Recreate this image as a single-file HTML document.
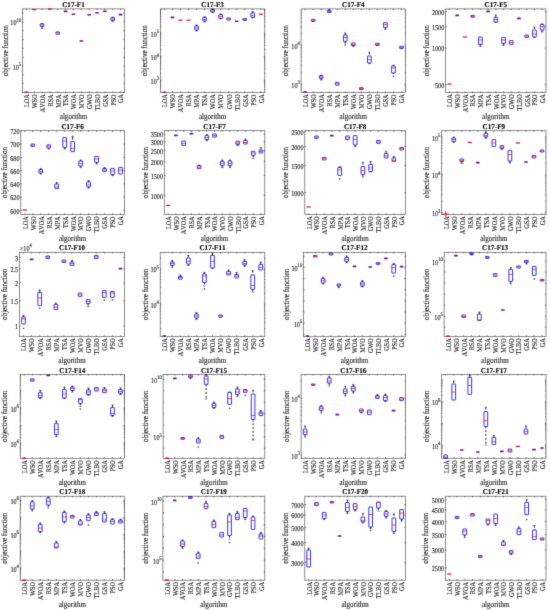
<!DOCTYPE html>
<html><head><meta charset="utf-8"><style>
html,body{margin:0;padding:0;background:#fff;}
svg{display:block;}
svg text{font-family:"Liberation Serif", "Times New Roman", serif;fill:#262626;stroke:#262626;stroke-width:0.12px;font-kerning:none;text-rendering:geometricPrecision;}
</style></head><body>
<svg width="550" height="610" viewBox="0 0 550 610">
<defs><filter id="bl" x="0" y="0" width="100%" height="100%" color-interpolation-filters="sRGB"><feConvolveMatrix order="3" kernelMatrix="0.0113 0.0838 0.0113 0.0838 0.6193 0.0838 0.0113 0.0838 0.0113" edgeMode="duplicate"/></filter></defs>
<g filter="url(#bl)">
<rect width="550" height="610" fill="#fff"/>
<rect x="22.45" y="8.9" width="102.05" height="83.6" fill="#fff" stroke="#5a5a5a" stroke-width="0.7"/>
<path d="M22.45 92.46h1.1M124.5 92.46h-1.1M22.45 83.64h1.1M124.5 83.64h-1.1M22.45 74.82h1.1M124.5 74.82h-1.1M22.45 66h1.1M124.5 66h-1.1M22.45 57.18h1.1M124.5 57.18h-1.1M22.45 48.36h1.1M124.5 48.36h-1.1M22.45 39.54h1.1M124.5 39.54h-1.1M22.45 30.72h1.1M124.5 30.72h-1.1M22.45 21.9h1.1M124.5 21.9h-1.1M22.45 13.08h1.1M124.5 13.08h-1.1M26.38 92.5v-1.1M26.38 8.9v1.1M34.22 92.5v-1.1M34.22 8.9v1.1M42.08 92.5v-1.1M42.08 8.9v1.1M49.92 92.5v-1.1M49.92 8.9v1.1M57.77 92.5v-1.1M57.77 8.9v1.1M65.62 92.5v-1.1M65.62 8.9v1.1M73.47 92.5v-1.1M73.47 8.9v1.1M81.33 92.5v-1.1M81.33 8.9v1.1M89.17 92.5v-1.1M89.17 8.9v1.1M97.03 92.5v-1.1M97.03 8.9v1.1M104.87 92.5v-1.1M104.87 8.9v1.1M112.73 92.5v-1.1M112.73 8.9v1.1M120.58 92.5v-1.1M120.58 8.9v1.1" stroke="#2a2a2a" stroke-width="0.7" fill="none"/>
<path d="M24.32 92.2h4.1" stroke="#d00a40" stroke-width="1.2"/>
<path d="M32.17 9.6h4.1" stroke="#d00a40" stroke-width="1.2"/>
<path d="M42.08 23.5V23.9" stroke="#000" stroke-width="0.85" stroke-dasharray="2 1.8"/><path d="M41.08 23.5h2" stroke="#000" stroke-width="0.6"/><path d="M42.08 26.4V28.4" stroke="#000" stroke-width="0.85" stroke-dasharray="2 1.8"/><path d="M41.08 28.4h2" stroke="#000" stroke-width="0.6"/><rect x="40.23" y="23.9" width="3.7" height="2.5" rx="0.4" fill="none" stroke="#00f" stroke-width="0.8"/><path d="M40.23 25h3.7" stroke="#f00" stroke-width="0.7"/>
<path d="M47.87 9h4.1" stroke="#d00a40" stroke-width="1.2"/>
<rect x="55.92" y="31.9" width="3.7" height="2.3" rx="0.4" fill="none" stroke="#00f" stroke-width="0.8"/><path d="M55.92 33h3.7" stroke="#f00" stroke-width="0.7"/>
<rect x="63.77" y="10.6" width="3.7" height="1.6" rx="0.5" fill="#7a0a90"/>
<rect x="71.62" y="13.4" width="3.7" height="1.6" rx="0.5" fill="#7a0a90"/>
<rect x="79.48" y="40.2" width="3.7" height="1.6" rx="0.5" fill="#7a0a90"/>
<rect x="87.33" y="14" width="3.7" height="1.6" rx="0.5" fill="#7a0a90"/>
<rect x="95.18" y="12" width="3.7" height="1.6" rx="0.5" fill="#7a0a90"/>
<rect x="103.02" y="10.5" width="3.7" height="1.6" rx="0.5" fill="#7a0a90"/>
<path d="M112.73 17.2V17.7" stroke="#000" stroke-width="0.85" stroke-dasharray="2 1.8"/><path d="M111.73 17.2h2" stroke="#000" stroke-width="0.6"/><path d="M112.73 20.6V21.2" stroke="#000" stroke-width="0.85" stroke-dasharray="2 1.8"/><path d="M111.73 21.2h2" stroke="#000" stroke-width="0.6"/><rect x="110.88" y="17.7" width="3.7" height="2.9" rx="0.4" fill="none" stroke="#00f" stroke-width="0.8"/><path d="M110.88 19h3.7" stroke="#f00" stroke-width="0.7"/>
<rect x="118.73" y="13.8" width="3.7" height="1.6" rx="0.5" fill="#7a0a90"/>
<text transform="translate(21.15 25.4) scale(1 1.2)" text-anchor="end" font-size="6.2">10<tspan font-size="4.6" dy="-3.0">10</tspan></text>
<text transform="translate(21.15 69.5) scale(1 1.2)" text-anchor="end" font-size="6.2">10<tspan font-size="4.6" dy="-3.0">5</tspan></text>
<text transform="translate(29.23 94.4) rotate(-90) scale(1 1.2)" text-anchor="end" font-size="6.2">LOA</text>
<text transform="translate(37.07 94.4) rotate(-90) scale(1 1.2)" text-anchor="end" font-size="6.2">WSO</text>
<text transform="translate(44.93 94.4) rotate(-90) scale(1 1.2)" text-anchor="end" font-size="6.2">AVOA</text>
<text transform="translate(52.77 94.4) rotate(-90) scale(1 1.2)" text-anchor="end" font-size="6.2">RSA</text>
<text transform="translate(60.62 94.4) rotate(-90) scale(1 1.2)" text-anchor="end" font-size="6.2">MPA</text>
<text transform="translate(68.47 94.4) rotate(-90) scale(1 1.2)" text-anchor="end" font-size="6.2">TSA</text>
<text transform="translate(76.32 94.4) rotate(-90) scale(1 1.2)" text-anchor="end" font-size="6.2">WOA</text>
<text transform="translate(84.17 94.4) rotate(-90) scale(1 1.2)" text-anchor="end" font-size="6.2">MVO</text>
<text transform="translate(92.02 94.4) rotate(-90) scale(1 1.2)" text-anchor="end" font-size="6.2">GWO</text>
<text transform="translate(99.88 94.4) rotate(-90) scale(1 1.2)" text-anchor="end" font-size="6.2">TLBO</text>
<text transform="translate(107.72 94.4) rotate(-90) scale(1 1.2)" text-anchor="end" font-size="6.2">GSA</text>
<text transform="translate(115.58 94.4) rotate(-90) scale(1 1.2)" text-anchor="end" font-size="6.2">PSO</text>
<text transform="translate(123.42 94.4) rotate(-90) scale(1 1.2)" text-anchor="end" font-size="6.2">GA</text>
<text transform="translate(73.47 118.8) scale(1 1.2)" text-anchor="middle" font-size="7.05">algorithm</text>
<text transform="translate(73.47 7) scale(1 1.04)" text-anchor="middle" font-size="7.1" font-weight="bold" style="fill:#000;stroke:#000">C17-F1</text>
<text transform="translate(7.5 50.7) rotate(-90) scale(1 1.2)" text-anchor="middle" font-size="7.05">objective function</text>
<rect x="160.4" y="8.9" width="104.4" height="83.6" fill="#fff" stroke="#5a5a5a" stroke-width="0.7"/>
<path d="M160.4 80.2h1.1M264.8 80.2h-1.1M160.4 56.65h1.1M264.8 56.65h-1.1M160.4 33.1h1.1M264.8 33.1h-1.1M160.4 9.55h1.1M264.8 9.55h-1.1M160.4 89.57h0.7M264.8 89.57h-0.7M160.4 87.29h0.7M264.8 87.29h-0.7M160.4 85.42h0.7M264.8 85.42h-0.7M160.4 83.85h0.7M264.8 83.85h-0.7M160.4 82.48h0.7M264.8 82.48h-0.7M160.4 81.28h0.7M264.8 81.28h-0.7M160.4 73.11h0.7M264.8 73.11h-0.7M160.4 68.96h0.7M264.8 68.96h-0.7M160.4 66.02h0.7M264.8 66.02h-0.7M160.4 63.74h0.7M264.8 63.74h-0.7M160.4 61.87h0.7M264.8 61.87h-0.7M160.4 60.3h0.7M264.8 60.3h-0.7M160.4 58.93h0.7M264.8 58.93h-0.7M160.4 57.73h0.7M264.8 57.73h-0.7M160.4 49.56h0.7M264.8 49.56h-0.7M160.4 45.41h0.7M264.8 45.41h-0.7M160.4 42.47h0.7M264.8 42.47h-0.7M160.4 40.19h0.7M264.8 40.19h-0.7M160.4 38.32h0.7M264.8 38.32h-0.7M160.4 36.75h0.7M264.8 36.75h-0.7M160.4 35.38h0.7M264.8 35.38h-0.7M160.4 34.18h0.7M264.8 34.18h-0.7M160.4 26.01h0.7M264.8 26.01h-0.7M160.4 21.86h0.7M264.8 21.86h-0.7M160.4 18.92h0.7M264.8 18.92h-0.7M160.4 16.64h0.7M264.8 16.64h-0.7M160.4 14.77h0.7M264.8 14.77h-0.7M160.4 13.2h0.7M264.8 13.2h-0.7M160.4 11.83h0.7M264.8 11.83h-0.7M160.4 10.63h0.7M264.8 10.63h-0.7M164.42 92.5v-1.1M164.42 8.9v1.1M172.45 92.5v-1.1M172.45 8.9v1.1M180.48 92.5v-1.1M180.48 8.9v1.1M188.51 92.5v-1.1M188.51 8.9v1.1M196.54 92.5v-1.1M196.54 8.9v1.1M204.57 92.5v-1.1M204.57 8.9v1.1M212.6 92.5v-1.1M212.6 8.9v1.1M220.63 92.5v-1.1M220.63 8.9v1.1M228.66 92.5v-1.1M228.66 8.9v1.1M236.69 92.5v-1.1M236.69 8.9v1.1M244.72 92.5v-1.1M244.72 8.9v1.1M252.75 92.5v-1.1M252.75 8.9v1.1M260.78 92.5v-1.1M260.78 8.9v1.1" stroke="#2a2a2a" stroke-width="0.7" fill="none"/>
<path d="M162.37 92.2h4.1" stroke="#d00a40" stroke-width="1.2"/>
<rect x="170.6" y="16.6" width="3.7" height="1.6" rx="0.5" fill="#7a0a90"/>
<path d="M178.43 20.2h4.1" stroke="#d00a40" stroke-width="1.2"/>
<path d="M186.46 20.2h4.1" stroke="#d00a40" stroke-width="1.2"/>
<path d="M196.54 25V26" stroke="#000" stroke-width="0.85" stroke-dasharray="2 1.8"/><path d="M195.54 25h2" stroke="#000" stroke-width="0.6"/><path d="M196.54 30V31" stroke="#000" stroke-width="0.85" stroke-dasharray="2 1.8"/><path d="M195.54 31h2" stroke="#000" stroke-width="0.6"/><rect x="194.69" y="26" width="3.7" height="4" rx="0.4" fill="none" stroke="#00f" stroke-width="0.8"/><path d="M194.69 28h3.7" stroke="#f00" stroke-width="0.7"/>
<path d="M204.57 16.6V17.6" stroke="#000" stroke-width="0.85" stroke-dasharray="2 1.8"/><path d="M203.57 16.6h2" stroke="#000" stroke-width="0.6"/><path d="M204.57 21V22" stroke="#000" stroke-width="0.85" stroke-dasharray="2 1.8"/><path d="M203.57 22h2" stroke="#000" stroke-width="0.6"/><rect x="202.72" y="17.6" width="3.7" height="3.4" rx="0.4" fill="none" stroke="#00f" stroke-width="0.8"/><path d="M202.72 19.4h3.7" stroke="#f00" stroke-width="0.7"/>
<path d="M212.6 9V9.4" stroke="#000" stroke-width="0.85" stroke-dasharray="2 1.8"/><path d="M211.6 9h2" stroke="#000" stroke-width="0.6"/><path d="M212.6 12V12.4" stroke="#000" stroke-width="0.85" stroke-dasharray="2 1.8"/><path d="M211.6 12.4h2" stroke="#000" stroke-width="0.6"/><rect x="210.75" y="9.4" width="3.7" height="2.6" rx="0.4" fill="none" stroke="#00f" stroke-width="0.8"/><path d="M210.75 10.8h3.7" stroke="#f00" stroke-width="0.7"/>
<path d="M220.63 14V14.6" stroke="#000" stroke-width="0.85" stroke-dasharray="2 1.8"/><path d="M219.63 14h2" stroke="#000" stroke-width="0.6"/><path d="M220.63 18.4V18.8" stroke="#000" stroke-width="0.85" stroke-dasharray="2 1.8"/><path d="M219.63 18.8h2" stroke="#000" stroke-width="0.6"/><rect x="218.78" y="14.6" width="3.7" height="3.8" rx="0.4" fill="none" stroke="#00f" stroke-width="0.8"/><path d="M218.78 16.4h3.7" stroke="#f00" stroke-width="0.7"/>
<rect x="226.81" y="18" width="3.7" height="2" rx="0.4" fill="none" stroke="#00f" stroke-width="0.8"/><path d="M226.81 19h3.7" stroke="#f00" stroke-width="0.7"/>
<rect x="234.84" y="20.4" width="3.7" height="1.6" rx="0.5" fill="#7a0a90"/>
<rect x="242.87" y="18.6" width="3.7" height="1.8" rx="0.4" fill="none" stroke="#00f" stroke-width="0.8"/><path d="M242.87 19.4h3.7" stroke="#f00" stroke-width="0.7"/>
<path d="M252.75 11.6V13" stroke="#000" stroke-width="0.85" stroke-dasharray="2 1.8"/><path d="M251.75 11.6h2" stroke="#000" stroke-width="0.6"/><path d="M252.75 17.4V17.8" stroke="#000" stroke-width="0.85" stroke-dasharray="2 1.8"/><path d="M251.75 17.8h2" stroke="#000" stroke-width="0.6"/><rect x="250.9" y="13" width="3.7" height="4.4" rx="0.4" fill="none" stroke="#00f" stroke-width="0.8"/><path d="M250.9 15.6h3.7" stroke="#f00" stroke-width="0.7"/>
<path d="M258.73 14.2h4.1" stroke="#d00a40" stroke-width="1.2"/>
<text transform="translate(159.1 36.6) scale(1 1.2)" text-anchor="end" font-size="6.2">10<tspan font-size="4.6" dy="-3.0">5</tspan></text>
<text transform="translate(159.1 60.15) scale(1 1.2)" text-anchor="end" font-size="6.2">10<tspan font-size="4.6" dy="-3.0">4</tspan></text>
<text transform="translate(159.1 83.7) scale(1 1.2)" text-anchor="end" font-size="6.2">10<tspan font-size="4.6" dy="-3.0">3</tspan></text>
<text transform="translate(167.27 94.4) rotate(-90) scale(1 1.2)" text-anchor="end" font-size="6.2">LOA</text>
<text transform="translate(175.3 94.4) rotate(-90) scale(1 1.2)" text-anchor="end" font-size="6.2">WSO</text>
<text transform="translate(183.33 94.4) rotate(-90) scale(1 1.2)" text-anchor="end" font-size="6.2">AVOA</text>
<text transform="translate(191.36 94.4) rotate(-90) scale(1 1.2)" text-anchor="end" font-size="6.2">RSA</text>
<text transform="translate(199.39 94.4) rotate(-90) scale(1 1.2)" text-anchor="end" font-size="6.2">MPA</text>
<text transform="translate(207.42 94.4) rotate(-90) scale(1 1.2)" text-anchor="end" font-size="6.2">TSA</text>
<text transform="translate(215.45 94.4) rotate(-90) scale(1 1.2)" text-anchor="end" font-size="6.2">WOA</text>
<text transform="translate(223.48 94.4) rotate(-90) scale(1 1.2)" text-anchor="end" font-size="6.2">MVO</text>
<text transform="translate(231.51 94.4) rotate(-90) scale(1 1.2)" text-anchor="end" font-size="6.2">GWO</text>
<text transform="translate(239.54 94.4) rotate(-90) scale(1 1.2)" text-anchor="end" font-size="6.2">TLBO</text>
<text transform="translate(247.57 94.4) rotate(-90) scale(1 1.2)" text-anchor="end" font-size="6.2">GSA</text>
<text transform="translate(255.6 94.4) rotate(-90) scale(1 1.2)" text-anchor="end" font-size="6.2">PSO</text>
<text transform="translate(263.63 94.4) rotate(-90) scale(1 1.2)" text-anchor="end" font-size="6.2">GA</text>
<text transform="translate(212.6 118.8) scale(1 1.2)" text-anchor="middle" font-size="7.05">algorithm</text>
<text transform="translate(212.6 7) scale(1 1.04)" text-anchor="middle" font-size="7.1" font-weight="bold" style="fill:#000;stroke:#000">C17-F3</text>
<text transform="translate(147.35 50.7) rotate(-90) scale(1 1.2)" text-anchor="middle" font-size="7.05">objective function</text>
<rect x="301.1" y="8.9" width="104.4" height="83.6" fill="#fff" stroke="#5a5a5a" stroke-width="0.7"/>
<path d="M301.1 84.2h1.1M405.5 84.2h-1.1M301.1 45.3h1.1M405.5 45.3h-1.1M301.1 90.23h0.7M405.5 90.23h-0.7M301.1 87.97h0.7M405.5 87.97h-0.7M301.1 85.98h0.7M405.5 85.98h-0.7M301.1 72.49h0.7M405.5 72.49h-0.7M301.1 65.64h0.7M405.5 65.64h-0.7M301.1 60.78h0.7M405.5 60.78h-0.7M301.1 57.01h0.7M405.5 57.01h-0.7M301.1 53.93h0.7M405.5 53.93h-0.7M301.1 51.33h0.7M405.5 51.33h-0.7M301.1 49.07h0.7M405.5 49.07h-0.7M301.1 47.08h0.7M405.5 47.08h-0.7M301.1 33.59h0.7M405.5 33.59h-0.7M301.1 26.74h0.7M405.5 26.74h-0.7M301.1 21.88h0.7M405.5 21.88h-0.7M301.1 18.11h0.7M405.5 18.11h-0.7M301.1 15.03h0.7M405.5 15.03h-0.7M301.1 12.43h0.7M405.5 12.43h-0.7M301.1 10.17h0.7M405.5 10.17h-0.7M305.12 92.5v-1.1M305.12 8.9v1.1M313.15 92.5v-1.1M313.15 8.9v1.1M321.18 92.5v-1.1M321.18 8.9v1.1M329.21 92.5v-1.1M329.21 8.9v1.1M337.24 92.5v-1.1M337.24 8.9v1.1M345.27 92.5v-1.1M345.27 8.9v1.1M353.3 92.5v-1.1M353.3 8.9v1.1M361.33 92.5v-1.1M361.33 8.9v1.1M369.36 92.5v-1.1M369.36 8.9v1.1M377.39 92.5v-1.1M377.39 8.9v1.1M385.42 92.5v-1.1M385.42 8.9v1.1M393.45 92.5v-1.1M393.45 8.9v1.1M401.48 92.5v-1.1M401.48 8.9v1.1" stroke="#2a2a2a" stroke-width="0.7" fill="none"/>
<rect x="303.27" y="91.2" width="3.7" height="1.6" rx="0.5" fill="#7a0a90"/>
<rect x="311.3" y="19.3" width="3.7" height="2.2" rx="0.4" fill="none" stroke="#00f" stroke-width="0.8"/><path d="M311.3 20.4h3.7" stroke="#f00" stroke-width="0.7"/>
<path d="M321.18 75V75.6" stroke="#000" stroke-width="0.85" stroke-dasharray="2 1.8"/><path d="M320.18 75h2" stroke="#000" stroke-width="0.6"/><path d="M321.18 78.4V80" stroke="#000" stroke-width="0.85" stroke-dasharray="2 1.8"/><path d="M320.18 80h2" stroke="#000" stroke-width="0.6"/><rect x="319.33" y="75.6" width="3.7" height="2.8" rx="0.4" fill="none" stroke="#00f" stroke-width="0.8"/><path d="M319.33 77h3.7" stroke="#f00" stroke-width="0.7"/>
<path d="M329.21 9.6V10.3" stroke="#000" stroke-width="0.85" stroke-dasharray="2 1.8"/><path d="M328.21 9.6h2" stroke="#000" stroke-width="0.6"/><rect x="327.36" y="10.3" width="3.7" height="2.2" rx="0.4" fill="none" stroke="#00f" stroke-width="0.8"/><path d="M327.36 11.4h3.7" stroke="#f00" stroke-width="0.7"/>
<rect x="335.39" y="82.4" width="3.7" height="2.8" rx="0.4" fill="none" stroke="#00f" stroke-width="0.8"/><path d="M335.39 83.8h3.7" stroke="#f00" stroke-width="0.7"/>
<path d="M345.27 33V35" stroke="#000" stroke-width="0.85" stroke-dasharray="2 1.8"/><path d="M344.27 33h2" stroke="#000" stroke-width="0.6"/><path d="M345.27 41.4V43" stroke="#000" stroke-width="0.85" stroke-dasharray="2 1.8"/><path d="M344.27 43h2" stroke="#000" stroke-width="0.6"/><rect x="343.42" y="35" width="3.7" height="6.4" rx="0.4" fill="none" stroke="#00f" stroke-width="0.8"/><path d="M343.42 37.6h3.7" stroke="#f00" stroke-width="0.7"/><path d="M344.47 45h1.6M345.27 44.2v1.6" stroke="#222" stroke-width="0.6"/>
<path d="M353.3 45.6V46.5" stroke="#000" stroke-width="0.85" stroke-dasharray="2 1.8"/><path d="M352.3 46.5h2" stroke="#000" stroke-width="0.6"/><rect x="351.45" y="43" width="3.7" height="2.6" rx="0.4" fill="none" stroke="#00f" stroke-width="0.8"/><path d="M351.45 44.3h3.7" stroke="#f00" stroke-width="0.7"/>
<rect x="359.48" y="87.6" width="3.7" height="2" rx="0.4" fill="none" stroke="#00f" stroke-width="0.8"/><path d="M359.48 88.6h3.7" stroke="#f00" stroke-width="0.7"/>
<path d="M369.36 52.4V56" stroke="#000" stroke-width="0.85" stroke-dasharray="2 1.8"/><path d="M368.36 52.4h2" stroke="#000" stroke-width="0.6"/><path d="M369.36 63V63.6" stroke="#000" stroke-width="0.85" stroke-dasharray="2 1.8"/><path d="M368.36 63.6h2" stroke="#000" stroke-width="0.6"/><rect x="367.51" y="56" width="3.7" height="7" rx="0.4" fill="none" stroke="#00f" stroke-width="0.8"/><path d="M367.51 59.6h3.7" stroke="#f00" stroke-width="0.7"/>
<rect x="375.54" y="43.3" width="3.7" height="2.2" rx="0.4" fill="none" stroke="#00f" stroke-width="0.8"/><path d="M375.54 44.4h3.7" stroke="#f00" stroke-width="0.7"/>
<path d="M385.42 27.6V29.4" stroke="#000" stroke-width="0.85" stroke-dasharray="2 1.8"/><path d="M384.42 29.4h2" stroke="#000" stroke-width="0.6"/><rect x="383.57" y="22.6" width="3.7" height="5" rx="0.4" fill="none" stroke="#00f" stroke-width="0.8"/><path d="M383.57 24.6h3.7" stroke="#f00" stroke-width="0.7"/>
<path d="M393.45 65.2V66" stroke="#000" stroke-width="0.85" stroke-dasharray="2 1.8"/><path d="M392.45 65.2h2" stroke="#000" stroke-width="0.6"/><path d="M393.45 73V73.4" stroke="#000" stroke-width="0.85" stroke-dasharray="2 1.8"/><path d="M392.45 73.4h2" stroke="#000" stroke-width="0.6"/><rect x="391.6" y="66" width="3.7" height="7" rx="0.4" fill="none" stroke="#00f" stroke-width="0.8"/><path d="M391.6 68h3.7" stroke="#f00" stroke-width="0.7"/><path d="M392.65 76.4h1.6M393.45 75.6v1.6" stroke="#222" stroke-width="0.6"/>
<rect x="399.63" y="46.3" width="3.7" height="2.2" rx="0.4" fill="none" stroke="#00f" stroke-width="0.8"/><path d="M399.63 47.4h3.7" stroke="#f00" stroke-width="0.7"/>
<text transform="translate(299.8 48.8) scale(1 1.2)" text-anchor="end" font-size="6.2">10<tspan font-size="4.6" dy="-3.0">4</tspan></text>
<text transform="translate(299.8 87.7) scale(1 1.2)" text-anchor="end" font-size="6.2">10<tspan font-size="4.6" dy="-3.0">3</tspan></text>
<text transform="translate(307.97 94.4) rotate(-90) scale(1 1.2)" text-anchor="end" font-size="6.2">LOA</text>
<text transform="translate(316 94.4) rotate(-90) scale(1 1.2)" text-anchor="end" font-size="6.2">WSO</text>
<text transform="translate(324.03 94.4) rotate(-90) scale(1 1.2)" text-anchor="end" font-size="6.2">AVOA</text>
<text transform="translate(332.06 94.4) rotate(-90) scale(1 1.2)" text-anchor="end" font-size="6.2">RSA</text>
<text transform="translate(340.09 94.4) rotate(-90) scale(1 1.2)" text-anchor="end" font-size="6.2">MPA</text>
<text transform="translate(348.12 94.4) rotate(-90) scale(1 1.2)" text-anchor="end" font-size="6.2">TSA</text>
<text transform="translate(356.15 94.4) rotate(-90) scale(1 1.2)" text-anchor="end" font-size="6.2">WOA</text>
<text transform="translate(364.18 94.4) rotate(-90) scale(1 1.2)" text-anchor="end" font-size="6.2">MVO</text>
<text transform="translate(372.21 94.4) rotate(-90) scale(1 1.2)" text-anchor="end" font-size="6.2">GWO</text>
<text transform="translate(380.24 94.4) rotate(-90) scale(1 1.2)" text-anchor="end" font-size="6.2">TLBO</text>
<text transform="translate(388.27 94.4) rotate(-90) scale(1 1.2)" text-anchor="end" font-size="6.2">GSA</text>
<text transform="translate(396.3 94.4) rotate(-90) scale(1 1.2)" text-anchor="end" font-size="6.2">PSO</text>
<text transform="translate(404.33 94.4) rotate(-90) scale(1 1.2)" text-anchor="end" font-size="6.2">GA</text>
<text transform="translate(353.3 118.8) scale(1 1.2)" text-anchor="middle" font-size="7.05">algorithm</text>
<text transform="translate(353.3 7) scale(1 1.04)" text-anchor="middle" font-size="7.1" font-weight="bold" style="fill:#000;stroke:#000">C17-F4</text>
<text transform="translate(287.95 50.7) rotate(-90) scale(1 1.2)" text-anchor="middle" font-size="7.05">objective function</text>
<rect x="445.6" y="8.9" width="100.4" height="83.6" fill="#fff" stroke="#5a5a5a" stroke-width="0.7"/>
<path d="M445.6 11.6h1.1M546 11.6h-1.1M445.6 26.75h1.1M546 26.75h-1.1M445.6 48.1h1.1M546 48.1h-1.1M445.6 84.6h1.1M546 84.6h-1.1M449.46 92.5v-1.1M449.46 8.9v1.1M457.18 92.5v-1.1M457.18 8.9v1.1M464.91 92.5v-1.1M464.91 8.9v1.1M472.63 92.5v-1.1M472.63 8.9v1.1M480.35 92.5v-1.1M480.35 8.9v1.1M488.08 92.5v-1.1M488.08 8.9v1.1M495.8 92.5v-1.1M495.8 8.9v1.1M503.52 92.5v-1.1M503.52 8.9v1.1M511.25 92.5v-1.1M511.25 8.9v1.1M518.97 92.5v-1.1M518.97 8.9v1.1M526.69 92.5v-1.1M526.69 8.9v1.1M534.42 92.5v-1.1M534.42 8.9v1.1M542.14 92.5v-1.1M542.14 8.9v1.1" stroke="#2a2a2a" stroke-width="0.7" fill="none"/>
<path d="M447.41 84h4.1" stroke="#d00a40" stroke-width="1.2"/>
<rect x="455.33" y="14.6" width="3.7" height="1.6" rx="0.5" fill="#7a0a90"/>
<path d="M462.86 37h4.1" stroke="#d00a40" stroke-width="1.2"/>
<rect x="470.78" y="15.4" width="3.7" height="1.8" rx="0.4" fill="none" stroke="#00f" stroke-width="0.8"/><path d="M470.78 16.3h3.7" stroke="#f00" stroke-width="0.7"/>
<path d="M480.35 44.4V46.4" stroke="#000" stroke-width="0.85" stroke-dasharray="2 1.8"/><path d="M479.35 46.4h2" stroke="#000" stroke-width="0.6"/><rect x="478.5" y="37" width="3.7" height="7.4" rx="0.4" fill="none" stroke="#00f" stroke-width="0.8"/><path d="M478.5 40h3.7" stroke="#f00" stroke-width="0.7"/>
<rect x="486.23" y="10.6" width="3.7" height="1.6" rx="0.5" fill="#7a0a90"/>
<path d="M495.8 15.2V17.6" stroke="#000" stroke-width="0.85" stroke-dasharray="2 1.8"/><path d="M494.8 15.2h2" stroke="#000" stroke-width="0.6"/><path d="M495.8 22V22.4" stroke="#000" stroke-width="0.85" stroke-dasharray="2 1.8"/><path d="M494.8 22.4h2" stroke="#000" stroke-width="0.6"/><rect x="493.95" y="17.6" width="3.7" height="4.4" rx="0.4" fill="none" stroke="#00f" stroke-width="0.8"/><path d="M493.95 19.6h3.7" stroke="#f00" stroke-width="0.7"/>
<path d="M503.52 43.4V45.4" stroke="#000" stroke-width="0.85" stroke-dasharray="2 1.8"/><path d="M502.52 45.4h2" stroke="#000" stroke-width="0.6"/><rect x="501.67" y="37.4" width="3.7" height="6" rx="0.4" fill="none" stroke="#00f" stroke-width="0.8"/><path d="M501.67 40h3.7" stroke="#f00" stroke-width="0.7"/>
<rect x="509.4" y="40.6" width="3.7" height="3.8" rx="0.4" fill="none" stroke="#00f" stroke-width="0.8"/><path d="M509.4 42.6h3.7" stroke="#f00" stroke-width="0.7"/>
<rect x="517.12" y="17.6" width="3.7" height="1.6" rx="0.5" fill="#7a0a90"/>
<rect x="524.84" y="35" width="3.7" height="2.4" rx="0.4" fill="none" stroke="#00f" stroke-width="0.8"/><path d="M524.84 36.2h3.7" stroke="#f00" stroke-width="0.7"/>
<path d="M534.42 27V30" stroke="#000" stroke-width="0.85" stroke-dasharray="2 1.8"/><path d="M533.42 27h2" stroke="#000" stroke-width="0.6"/><path d="M534.42 37V37.4" stroke="#000" stroke-width="0.85" stroke-dasharray="2 1.8"/><path d="M533.42 37.4h2" stroke="#000" stroke-width="0.6"/><rect x="532.57" y="30" width="3.7" height="7" rx="0.4" fill="none" stroke="#00f" stroke-width="0.8"/><path d="M532.57 34h3.7" stroke="#f00" stroke-width="0.7"/>
<path d="M542.14 24V24.4" stroke="#000" stroke-width="0.85" stroke-dasharray="2 1.8"/><path d="M541.14 24h2" stroke="#000" stroke-width="0.6"/><path d="M542.14 30V32" stroke="#000" stroke-width="0.85" stroke-dasharray="2 1.8"/><path d="M541.14 32h2" stroke="#000" stroke-width="0.6"/><rect x="540.29" y="24.4" width="3.7" height="5.6" rx="0.4" fill="none" stroke="#00f" stroke-width="0.8"/><path d="M540.29 26.6h3.7" stroke="#f00" stroke-width="0.7"/>
<text transform="translate(444.3 14.8) scale(1 1.2)" text-anchor="end" font-size="6.2">2000</text>
<text transform="translate(444.3 29.95) scale(1 1.2)" text-anchor="end" font-size="6.2">1500</text>
<text transform="translate(444.3 51.3) scale(1 1.2)" text-anchor="end" font-size="6.2">1000</text>
<text transform="translate(444.3 87.8) scale(1 1.2)" text-anchor="end" font-size="6.2">500</text>
<text transform="translate(452.31 94.4) rotate(-90) scale(1 1.2)" text-anchor="end" font-size="6.2">LOA</text>
<text transform="translate(460.03 94.4) rotate(-90) scale(1 1.2)" text-anchor="end" font-size="6.2">WSO</text>
<text transform="translate(467.76 94.4) rotate(-90) scale(1 1.2)" text-anchor="end" font-size="6.2">AVOA</text>
<text transform="translate(475.48 94.4) rotate(-90) scale(1 1.2)" text-anchor="end" font-size="6.2">RSA</text>
<text transform="translate(483.2 94.4) rotate(-90) scale(1 1.2)" text-anchor="end" font-size="6.2">MPA</text>
<text transform="translate(490.93 94.4) rotate(-90) scale(1 1.2)" text-anchor="end" font-size="6.2">TSA</text>
<text transform="translate(498.65 94.4) rotate(-90) scale(1 1.2)" text-anchor="end" font-size="6.2">WOA</text>
<text transform="translate(506.37 94.4) rotate(-90) scale(1 1.2)" text-anchor="end" font-size="6.2">MVO</text>
<text transform="translate(514.1 94.4) rotate(-90) scale(1 1.2)" text-anchor="end" font-size="6.2">GWO</text>
<text transform="translate(521.82 94.4) rotate(-90) scale(1 1.2)" text-anchor="end" font-size="6.2">TLBO</text>
<text transform="translate(529.54 94.4) rotate(-90) scale(1 1.2)" text-anchor="end" font-size="6.2">GSA</text>
<text transform="translate(537.27 94.4) rotate(-90) scale(1 1.2)" text-anchor="end" font-size="6.2">PSO</text>
<text transform="translate(544.99 94.4) rotate(-90) scale(1 1.2)" text-anchor="end" font-size="6.2">GA</text>
<text transform="translate(495.8 118.8) scale(1 1.2)" text-anchor="middle" font-size="7.05">algorithm</text>
<text transform="translate(495.8 7) scale(1 1.04)" text-anchor="middle" font-size="7.1" font-weight="bold" style="fill:#000;stroke:#000">C17-F5</text>
<text transform="translate(428.55 50.7) rotate(-90) scale(1 1.2)" text-anchor="middle" font-size="7.05">objective function</text>
<rect x="20.8" y="130.7" width="103.7" height="83.8" fill="#fff" stroke="#5a5a5a" stroke-width="0.7"/>
<path d="M20.8 210.4h1.1M124.5 210.4h-1.1M20.8 197.14h1.1M124.5 197.14h-1.1M20.8 183.88h1.1M124.5 183.88h-1.1M20.8 170.62h1.1M124.5 170.62h-1.1M20.8 157.36h1.1M124.5 157.36h-1.1M20.8 144.1h1.1M124.5 144.1h-1.1M20.8 130.84h1.1M124.5 130.84h-1.1M24.79 214.5v-1.1M24.79 130.7v1.1M32.77 214.5v-1.1M32.77 130.7v1.1M40.74 214.5v-1.1M40.74 130.7v1.1M48.72 214.5v-1.1M48.72 130.7v1.1M56.7 214.5v-1.1M56.7 130.7v1.1M64.67 214.5v-1.1M64.67 130.7v1.1M72.65 214.5v-1.1M72.65 130.7v1.1M80.63 214.5v-1.1M80.63 130.7v1.1M88.6 214.5v-1.1M88.6 130.7v1.1M96.58 214.5v-1.1M96.58 130.7v1.1M104.56 214.5v-1.1M104.56 130.7v1.1M112.53 214.5v-1.1M112.53 130.7v1.1M120.51 214.5v-1.1M120.51 130.7v1.1" stroke="#2a2a2a" stroke-width="0.7" fill="none"/>
<path d="M22.74 210h4.1" stroke="#d00a40" stroke-width="1.2"/>
<rect x="30.92" y="144" width="3.7" height="2.4" rx="0.4" fill="none" stroke="#00f" stroke-width="0.8"/><path d="M30.92 145.2h3.7" stroke="#f00" stroke-width="0.7"/>
<path d="M40.74 168.6V169.6" stroke="#000" stroke-width="0.85" stroke-dasharray="2 1.8"/><path d="M39.74 168.6h2" stroke="#000" stroke-width="0.6"/><path d="M40.74 173V174" stroke="#000" stroke-width="0.85" stroke-dasharray="2 1.8"/><path d="M39.74 174h2" stroke="#000" stroke-width="0.6"/><rect x="38.89" y="169.6" width="3.7" height="3.4" rx="0.4" fill="none" stroke="#00f" stroke-width="0.8"/><path d="M38.89 171.2h3.7" stroke="#f00" stroke-width="0.7"/>
<path d="M48.72 148V149" stroke="#000" stroke-width="0.85" stroke-dasharray="2 1.8"/><path d="M47.72 149h2" stroke="#000" stroke-width="0.6"/><rect x="46.87" y="144.8" width="3.7" height="3.2" rx="0.4" fill="none" stroke="#00f" stroke-width="0.8"/><path d="M46.87 146.2h3.7" stroke="#f00" stroke-width="0.7"/>
<path d="M56.7 182.6V184" stroke="#000" stroke-width="0.85" stroke-dasharray="2 1.8"/><path d="M55.7 182.6h2" stroke="#000" stroke-width="0.6"/><rect x="54.85" y="184" width="3.7" height="4.6" rx="0.4" fill="none" stroke="#00f" stroke-width="0.8"/><path d="M54.85 187h3.7" stroke="#f00" stroke-width="0.7"/>
<path d="M64.67 147.4V149" stroke="#000" stroke-width="0.85" stroke-dasharray="2 1.8"/><path d="M63.67 149h2" stroke="#000" stroke-width="0.6"/><rect x="62.82" y="137.6" width="3.7" height="9.8" rx="0.4" fill="none" stroke="#00f" stroke-width="0.8"/><path d="M62.82 141h3.7" stroke="#f00" stroke-width="0.7"/>
<path d="M72.65 137.6V141.6" stroke="#000" stroke-width="0.85" stroke-dasharray="2 1.8"/><path d="M71.65 137.6h2" stroke="#000" stroke-width="0.6"/><rect x="70.8" y="141.6" width="3.7" height="10" rx="0.4" fill="none" stroke="#00f" stroke-width="0.8"/><path d="M70.8 148.4h3.7" stroke="#f00" stroke-width="0.7"/><path d="M71.85 136.4h1.6M72.65 135.6v1.6" stroke="#222" stroke-width="0.6"/>
<path d="M80.63 160V161" stroke="#000" stroke-width="0.85" stroke-dasharray="2 1.8"/><path d="M79.63 160h2" stroke="#000" stroke-width="0.6"/><path d="M80.63 166V167.4" stroke="#000" stroke-width="0.85" stroke-dasharray="2 1.8"/><path d="M79.63 167.4h2" stroke="#000" stroke-width="0.6"/><rect x="78.78" y="161" width="3.7" height="5" rx="0.4" fill="none" stroke="#00f" stroke-width="0.8"/><path d="M78.78 163.6h3.7" stroke="#f00" stroke-width="0.7"/>
<path d="M88.6 180.6V182" stroke="#000" stroke-width="0.85" stroke-dasharray="2 1.8"/><path d="M87.6 180.6h2" stroke="#000" stroke-width="0.6"/><path d="M88.6 187V188" stroke="#000" stroke-width="0.85" stroke-dasharray="2 1.8"/><path d="M87.6 188h2" stroke="#000" stroke-width="0.6"/><rect x="86.75" y="182" width="3.7" height="5" rx="0.4" fill="none" stroke="#00f" stroke-width="0.8"/><path d="M86.75 185h3.7" stroke="#f00" stroke-width="0.7"/>
<path d="M96.58 162.4V164" stroke="#000" stroke-width="0.85" stroke-dasharray="2 1.8"/><path d="M95.58 164h2" stroke="#000" stroke-width="0.6"/><rect x="94.73" y="156.4" width="3.7" height="6" rx="0.4" fill="none" stroke="#00f" stroke-width="0.8"/><path d="M94.73 159h3.7" stroke="#f00" stroke-width="0.7"/>
<path d="M104.56 167.6V168.4" stroke="#000" stroke-width="0.85" stroke-dasharray="2 1.8"/><path d="M103.56 167.6h2" stroke="#000" stroke-width="0.6"/><rect x="102.71" y="168.4" width="3.7" height="3" rx="0.4" fill="none" stroke="#00f" stroke-width="0.8"/><path d="M102.71 170h3.7" stroke="#f00" stroke-width="0.7"/>
<path d="M112.53 174.6V175.6" stroke="#000" stroke-width="0.85" stroke-dasharray="2 1.8"/><path d="M111.53 175.6h2" stroke="#000" stroke-width="0.6"/><rect x="110.68" y="168.4" width="3.7" height="6.2" rx="0.4" fill="none" stroke="#00f" stroke-width="0.8"/><path d="M110.68 171h3.7" stroke="#f00" stroke-width="0.7"/>
<rect x="118.66" y="167.4" width="3.7" height="6.6" rx="0.4" fill="none" stroke="#00f" stroke-width="0.8"/><path d="M118.66 170h3.7" stroke="#f00" stroke-width="0.7"/>
<text transform="translate(19.5 213.6) scale(1 1.2)" text-anchor="end" font-size="6.2">600</text>
<text transform="translate(19.5 200.34) scale(1 1.2)" text-anchor="end" font-size="6.2">620</text>
<text transform="translate(19.5 187.08) scale(1 1.2)" text-anchor="end" font-size="6.2">640</text>
<text transform="translate(19.5 173.82) scale(1 1.2)" text-anchor="end" font-size="6.2">660</text>
<text transform="translate(19.5 160.56) scale(1 1.2)" text-anchor="end" font-size="6.2">680</text>
<text transform="translate(19.5 147.3) scale(1 1.2)" text-anchor="end" font-size="6.2">700</text>
<text transform="translate(19.5 134.04) scale(1 1.2)" text-anchor="end" font-size="6.2">720</text>
<text transform="translate(27.64 216.4) rotate(-90) scale(1 1.2)" text-anchor="end" font-size="6.2">LOA</text>
<text transform="translate(35.62 216.4) rotate(-90) scale(1 1.2)" text-anchor="end" font-size="6.2">WSO</text>
<text transform="translate(43.59 216.4) rotate(-90) scale(1 1.2)" text-anchor="end" font-size="6.2">AVOA</text>
<text transform="translate(51.57 216.4) rotate(-90) scale(1 1.2)" text-anchor="end" font-size="6.2">RSA</text>
<text transform="translate(59.55 216.4) rotate(-90) scale(1 1.2)" text-anchor="end" font-size="6.2">MPA</text>
<text transform="translate(67.52 216.4) rotate(-90) scale(1 1.2)" text-anchor="end" font-size="6.2">TSA</text>
<text transform="translate(75.5 216.4) rotate(-90) scale(1 1.2)" text-anchor="end" font-size="6.2">WOA</text>
<text transform="translate(83.48 216.4) rotate(-90) scale(1 1.2)" text-anchor="end" font-size="6.2">MVO</text>
<text transform="translate(91.45 216.4) rotate(-90) scale(1 1.2)" text-anchor="end" font-size="6.2">GWO</text>
<text transform="translate(99.43 216.4) rotate(-90) scale(1 1.2)" text-anchor="end" font-size="6.2">TLBO</text>
<text transform="translate(107.41 216.4) rotate(-90) scale(1 1.2)" text-anchor="end" font-size="6.2">GSA</text>
<text transform="translate(115.38 216.4) rotate(-90) scale(1 1.2)" text-anchor="end" font-size="6.2">PSO</text>
<text transform="translate(123.36 216.4) rotate(-90) scale(1 1.2)" text-anchor="end" font-size="6.2">GA</text>
<text transform="translate(72.65 240.8) scale(1 1.2)" text-anchor="middle" font-size="7.05">algorithm</text>
<text transform="translate(72.65 128.8) scale(1 1.04)" text-anchor="middle" font-size="7.1" font-weight="bold" style="fill:#000;stroke:#000">C17-F6</text>
<text transform="translate(6.65 172.6) rotate(-90) scale(1 1.2)" text-anchor="middle" font-size="7.05">objective function</text>
<rect x="164.3" y="130.7" width="100.5" height="83.8" fill="#fff" stroke="#5a5a5a" stroke-width="0.7"/>
<path d="M164.3 134.1h1.1M264.8 134.1h-1.1M164.3 141.64h1.1M264.8 141.64h-1.1M164.3 150.56h1.1M264.8 150.56h-1.1M164.3 161.48h1.1M264.8 161.48h-1.1M164.3 175.56h1.1M264.8 175.56h-1.1M164.3 195.4h1.1M264.8 195.4h-1.1M168.17 214.5v-1.1M168.17 130.7v1.1M175.9 214.5v-1.1M175.9 130.7v1.1M183.63 214.5v-1.1M183.63 130.7v1.1M191.36 214.5v-1.1M191.36 130.7v1.1M199.09 214.5v-1.1M199.09 130.7v1.1M206.82 214.5v-1.1M206.82 130.7v1.1M214.55 214.5v-1.1M214.55 130.7v1.1M222.28 214.5v-1.1M222.28 130.7v1.1M230.01 214.5v-1.1M230.01 130.7v1.1M237.74 214.5v-1.1M237.74 130.7v1.1M245.47 214.5v-1.1M245.47 130.7v1.1M253.2 214.5v-1.1M253.2 130.7v1.1M260.93 214.5v-1.1M260.93 130.7v1.1" stroke="#2a2a2a" stroke-width="0.7" fill="none"/>
<path d="M166.12 205.4h4.1" stroke="#d00a40" stroke-width="1.2"/>
<rect x="174.05" y="134.6" width="3.7" height="1.6" rx="0.5" fill="#7a0a90"/>
<rect x="181.78" y="141" width="3.7" height="4.4" rx="0.4" fill="none" stroke="#00f" stroke-width="0.8"/><path d="M181.78 143.4h3.7" stroke="#f00" stroke-width="0.7"/>
<rect x="189.51" y="132.8" width="3.7" height="1.6" rx="0.5" fill="#7a0a90"/>
<path d="M199.09 165V165.6" stroke="#000" stroke-width="0.85" stroke-dasharray="2 1.8"/><path d="M198.09 165h2" stroke="#000" stroke-width="0.6"/><rect x="197.24" y="165.6" width="3.7" height="3" rx="0.4" fill="none" stroke="#00f" stroke-width="0.8"/><path d="M197.24 167h3.7" stroke="#f00" stroke-width="0.7"/>
<path d="M206.82 134.6V135.6" stroke="#000" stroke-width="0.85" stroke-dasharray="2 1.8"/><path d="M205.82 134.6h2" stroke="#000" stroke-width="0.6"/><path d="M206.82 139.6V140.6" stroke="#000" stroke-width="0.85" stroke-dasharray="2 1.8"/><path d="M205.82 140.6h2" stroke="#000" stroke-width="0.6"/><rect x="204.97" y="135.6" width="3.7" height="4" rx="0.4" fill="none" stroke="#00f" stroke-width="0.8"/><path d="M204.97 137.6h3.7" stroke="#f00" stroke-width="0.7"/>
<rect x="212.7" y="134" width="3.7" height="3" rx="0.4" fill="none" stroke="#00f" stroke-width="0.8"/><path d="M212.7 135.6h3.7" stroke="#f00" stroke-width="0.7"/>
<path d="M222.28 160V161.4" stroke="#000" stroke-width="0.85" stroke-dasharray="2 1.8"/><path d="M221.28 160h2" stroke="#000" stroke-width="0.6"/><path d="M222.28 165.6V167.6" stroke="#000" stroke-width="0.85" stroke-dasharray="2 1.8"/><path d="M221.28 167.6h2" stroke="#000" stroke-width="0.6"/><rect x="220.43" y="161.4" width="3.7" height="4.2" rx="0.4" fill="none" stroke="#00f" stroke-width="0.8"/><path d="M220.43 163.4h3.7" stroke="#f00" stroke-width="0.7"/>
<path d="M230.01 160V161" stroke="#000" stroke-width="0.85" stroke-dasharray="2 1.8"/><path d="M229.01 160h2" stroke="#000" stroke-width="0.6"/><path d="M230.01 165.6V167.6" stroke="#000" stroke-width="0.85" stroke-dasharray="2 1.8"/><path d="M229.01 167.6h2" stroke="#000" stroke-width="0.6"/><rect x="228.16" y="161" width="3.7" height="4.6" rx="0.4" fill="none" stroke="#00f" stroke-width="0.8"/><path d="M228.16 163.6h3.7" stroke="#f00" stroke-width="0.7"/>
<path d="M237.74 144.4V145.6" stroke="#000" stroke-width="0.85" stroke-dasharray="2 1.8"/><path d="M236.74 145.6h2" stroke="#000" stroke-width="0.6"/><rect x="235.89" y="141.2" width="3.7" height="3.2" rx="0.4" fill="none" stroke="#00f" stroke-width="0.8"/><path d="M235.89 143h3.7" stroke="#f00" stroke-width="0.7"/>
<path d="M245.47 139V140.4" stroke="#000" stroke-width="0.85" stroke-dasharray="2 1.8"/><path d="M244.47 139h2" stroke="#000" stroke-width="0.6"/><rect x="243.62" y="140.4" width="3.7" height="3.6" rx="0.4" fill="none" stroke="#00f" stroke-width="0.8"/><path d="M243.62 142.6h3.7" stroke="#f00" stroke-width="0.7"/>
<path d="M253.2 155.4V158.4" stroke="#000" stroke-width="0.85" stroke-dasharray="2 1.8"/><path d="M252.2 158.4h2" stroke="#000" stroke-width="0.6"/><rect x="251.35" y="151.4" width="3.7" height="4" rx="0.4" fill="none" stroke="#00f" stroke-width="0.8"/><path d="M251.35 153h3.7" stroke="#f00" stroke-width="0.7"/>
<path d="M260.93 147.6V150" stroke="#000" stroke-width="0.85" stroke-dasharray="2 1.8"/><path d="M259.93 147.6h2" stroke="#000" stroke-width="0.6"/><rect x="259.08" y="150" width="3.7" height="3" rx="0.4" fill="none" stroke="#00f" stroke-width="0.8"/><path d="M259.08 151.6h3.7" stroke="#f00" stroke-width="0.7"/>
<text transform="translate(163 137.3) scale(1 1.2)" text-anchor="end" font-size="6.2">3500</text>
<text transform="translate(163 144.84) scale(1 1.2)" text-anchor="end" font-size="6.2">3000</text>
<text transform="translate(163 153.76) scale(1 1.2)" text-anchor="end" font-size="6.2">2500</text>
<text transform="translate(163 164.68) scale(1 1.2)" text-anchor="end" font-size="6.2">2000</text>
<text transform="translate(163 178.76) scale(1 1.2)" text-anchor="end" font-size="6.2">1500</text>
<text transform="translate(163 198.6) scale(1 1.2)" text-anchor="end" font-size="6.2">1000</text>
<text transform="translate(171.02 216.4) rotate(-90) scale(1 1.2)" text-anchor="end" font-size="6.2">LOA</text>
<text transform="translate(178.75 216.4) rotate(-90) scale(1 1.2)" text-anchor="end" font-size="6.2">WSO</text>
<text transform="translate(186.48 216.4) rotate(-90) scale(1 1.2)" text-anchor="end" font-size="6.2">AVOA</text>
<text transform="translate(194.21 216.4) rotate(-90) scale(1 1.2)" text-anchor="end" font-size="6.2">RSA</text>
<text transform="translate(201.94 216.4) rotate(-90) scale(1 1.2)" text-anchor="end" font-size="6.2">MPA</text>
<text transform="translate(209.67 216.4) rotate(-90) scale(1 1.2)" text-anchor="end" font-size="6.2">TSA</text>
<text transform="translate(217.4 216.4) rotate(-90) scale(1 1.2)" text-anchor="end" font-size="6.2">WOA</text>
<text transform="translate(225.13 216.4) rotate(-90) scale(1 1.2)" text-anchor="end" font-size="6.2">MVO</text>
<text transform="translate(232.86 216.4) rotate(-90) scale(1 1.2)" text-anchor="end" font-size="6.2">GWO</text>
<text transform="translate(240.59 216.4) rotate(-90) scale(1 1.2)" text-anchor="end" font-size="6.2">TLBO</text>
<text transform="translate(248.32 216.4) rotate(-90) scale(1 1.2)" text-anchor="end" font-size="6.2">GSA</text>
<text transform="translate(256.05 216.4) rotate(-90) scale(1 1.2)" text-anchor="end" font-size="6.2">PSO</text>
<text transform="translate(263.78 216.4) rotate(-90) scale(1 1.2)" text-anchor="end" font-size="6.2">GA</text>
<text transform="translate(214.55 240.8) scale(1 1.2)" text-anchor="middle" font-size="7.05">algorithm</text>
<text transform="translate(214.55 128.8) scale(1 1.04)" text-anchor="middle" font-size="7.1" font-weight="bold" style="fill:#000;stroke:#000">C17-F7</text>
<text transform="translate(148.25 172.6) rotate(-90) scale(1 1.2)" text-anchor="middle" font-size="7.05">objective function</text>
<rect x="304.8" y="130.7" width="100.7" height="83.8" fill="#fff" stroke="#5a5a5a" stroke-width="0.7"/>
<path d="M304.8 131.6h1.1M405.5 131.6h-1.1M304.8 146.46h1.1M405.5 146.46h-1.1M304.8 165.61h1.1M405.5 165.61h-1.1M304.8 192.6h1.1M405.5 192.6h-1.1M308.67 214.5v-1.1M308.67 130.7v1.1M316.42 214.5v-1.1M316.42 130.7v1.1M324.17 214.5v-1.1M324.17 130.7v1.1M331.91 214.5v-1.1M331.91 130.7v1.1M339.66 214.5v-1.1M339.66 130.7v1.1M347.4 214.5v-1.1M347.4 130.7v1.1M355.15 214.5v-1.1M355.15 130.7v1.1M362.9 214.5v-1.1M362.9 130.7v1.1M370.64 214.5v-1.1M370.64 130.7v1.1M378.39 214.5v-1.1M378.39 130.7v1.1M386.13 214.5v-1.1M386.13 130.7v1.1M393.88 214.5v-1.1M393.88 130.7v1.1M401.63 214.5v-1.1M401.63 130.7v1.1" stroke="#2a2a2a" stroke-width="0.7" fill="none"/>
<path d="M306.62 207h4.1" stroke="#d00a40" stroke-width="1.2"/>
<rect x="314.57" y="136" width="3.7" height="2.4" rx="0.4" fill="none" stroke="#00f" stroke-width="0.8"/><path d="M314.57 137.2h3.7" stroke="#f00" stroke-width="0.7"/>
<rect x="322.32" y="157.4" width="3.7" height="2.6" rx="0.4" fill="none" stroke="#00f" stroke-width="0.8"/><path d="M322.32 158.6h3.7" stroke="#f00" stroke-width="0.7"/>
<rect x="330.06" y="134.8" width="3.7" height="1.6" rx="0.5" fill="#7a0a90"/>
<path d="M339.66 166.6V167.6" stroke="#000" stroke-width="0.85" stroke-dasharray="2 1.8"/><path d="M338.66 166.6h2" stroke="#000" stroke-width="0.6"/><rect x="337.81" y="167.6" width="3.7" height="7.8" rx="0.4" fill="none" stroke="#00f" stroke-width="0.8"/><path d="M337.81 170h3.7" stroke="#f00" stroke-width="0.7"/><path d="M338.86 179h1.6M339.66 178.2v1.6" stroke="#222" stroke-width="0.6"/>
<rect x="345.55" y="136" width="3.7" height="3.6" rx="0.4" fill="none" stroke="#00f" stroke-width="0.8"/><path d="M345.55 138h3.7" stroke="#f00" stroke-width="0.7"/>
<path d="M355.15 145V146.6" stroke="#000" stroke-width="0.85" stroke-dasharray="2 1.8"/><path d="M354.15 146.6h2" stroke="#000" stroke-width="0.6"/><rect x="353.3" y="135.6" width="3.7" height="9.4" rx="0.4" fill="none" stroke="#00f" stroke-width="0.8"/><path d="M353.3 139.4h3.7" stroke="#f00" stroke-width="0.7"/>
<path d="M362.9 162.4V166.6" stroke="#000" stroke-width="0.85" stroke-dasharray="2 1.8"/><path d="M361.9 162.4h2" stroke="#000" stroke-width="0.6"/><path d="M362.9 174.4V177" stroke="#000" stroke-width="0.85" stroke-dasharray="2 1.8"/><path d="M361.9 177h2" stroke="#000" stroke-width="0.6"/><rect x="361.05" y="166.6" width="3.7" height="7.8" rx="0.4" fill="none" stroke="#00f" stroke-width="0.8"/><path d="M361.05 170.6h3.7" stroke="#f00" stroke-width="0.7"/>
<path d="M370.64 161.6V164.4" stroke="#000" stroke-width="0.85" stroke-dasharray="2 1.8"/><path d="M369.64 161.6h2" stroke="#000" stroke-width="0.6"/><path d="M370.64 171.6V172" stroke="#000" stroke-width="0.85" stroke-dasharray="2 1.8"/><path d="M369.64 172h2" stroke="#000" stroke-width="0.6"/><rect x="368.79" y="164.4" width="3.7" height="7.2" rx="0.4" fill="none" stroke="#00f" stroke-width="0.8"/><path d="M368.79 168h3.7" stroke="#f00" stroke-width="0.7"/>
<rect x="376.54" y="140.4" width="3.7" height="3" rx="0.4" fill="none" stroke="#00f" stroke-width="0.8"/><path d="M376.54 142h3.7" stroke="#f00" stroke-width="0.7"/>
<path d="M386.13 151.4V153.4" stroke="#000" stroke-width="0.85" stroke-dasharray="2 1.8"/><path d="M385.13 151.4h2" stroke="#000" stroke-width="0.6"/><rect x="384.28" y="153.4" width="3.7" height="4.6" rx="0.4" fill="none" stroke="#00f" stroke-width="0.8"/><path d="M384.28 156h3.7" stroke="#f00" stroke-width="0.7"/>
<path d="M393.88 156.4V158" stroke="#000" stroke-width="0.85" stroke-dasharray="2 1.8"/><path d="M392.88 156.4h2" stroke="#000" stroke-width="0.6"/><rect x="392.03" y="158" width="3.7" height="3.4" rx="0.4" fill="none" stroke="#00f" stroke-width="0.8"/><path d="M392.03 160.4h3.7" stroke="#f00" stroke-width="0.7"/>
<rect x="399.78" y="147.4" width="3.7" height="2.6" rx="0.4" fill="none" stroke="#00f" stroke-width="0.8"/><path d="M399.78 148.6h3.7" stroke="#f00" stroke-width="0.7"/>
<text transform="translate(303.5 134.8) scale(1 1.2)" text-anchor="end" font-size="6.2">2500</text>
<text transform="translate(303.5 149.66) scale(1 1.2)" text-anchor="end" font-size="6.2">2000</text>
<text transform="translate(303.5 168.81) scale(1 1.2)" text-anchor="end" font-size="6.2">1500</text>
<text transform="translate(303.5 195.8) scale(1 1.2)" text-anchor="end" font-size="6.2">1000</text>
<text transform="translate(311.52 216.4) rotate(-90) scale(1 1.2)" text-anchor="end" font-size="6.2">LOA</text>
<text transform="translate(319.27 216.4) rotate(-90) scale(1 1.2)" text-anchor="end" font-size="6.2">WSO</text>
<text transform="translate(327.02 216.4) rotate(-90) scale(1 1.2)" text-anchor="end" font-size="6.2">AVOA</text>
<text transform="translate(334.76 216.4) rotate(-90) scale(1 1.2)" text-anchor="end" font-size="6.2">RSA</text>
<text transform="translate(342.51 216.4) rotate(-90) scale(1 1.2)" text-anchor="end" font-size="6.2">MPA</text>
<text transform="translate(350.25 216.4) rotate(-90) scale(1 1.2)" text-anchor="end" font-size="6.2">TSA</text>
<text transform="translate(358 216.4) rotate(-90) scale(1 1.2)" text-anchor="end" font-size="6.2">WOA</text>
<text transform="translate(365.75 216.4) rotate(-90) scale(1 1.2)" text-anchor="end" font-size="6.2">MVO</text>
<text transform="translate(373.49 216.4) rotate(-90) scale(1 1.2)" text-anchor="end" font-size="6.2">GWO</text>
<text transform="translate(381.24 216.4) rotate(-90) scale(1 1.2)" text-anchor="end" font-size="6.2">TLBO</text>
<text transform="translate(388.98 216.4) rotate(-90) scale(1 1.2)" text-anchor="end" font-size="6.2">GSA</text>
<text transform="translate(396.73 216.4) rotate(-90) scale(1 1.2)" text-anchor="end" font-size="6.2">PSO</text>
<text transform="translate(404.48 216.4) rotate(-90) scale(1 1.2)" text-anchor="end" font-size="6.2">GA</text>
<text transform="translate(355.15 240.8) scale(1 1.2)" text-anchor="middle" font-size="7.05">algorithm</text>
<text transform="translate(355.15 128.8) scale(1 1.04)" text-anchor="middle" font-size="7.1" font-weight="bold" style="fill:#000;stroke:#000">C17-F8</text>
<text transform="translate(288.25 172.6) rotate(-90) scale(1 1.2)" text-anchor="middle" font-size="7.05">objective function</text>
<rect x="441.7" y="130.7" width="104.3" height="83.8" fill="#fff" stroke="#5a5a5a" stroke-width="0.7"/>
<path d="M441.7 212.6h1.1M546 212.6h-1.1M441.7 174.9h1.1M546 174.9h-1.1M441.7 137.2h1.1M546 137.2h-1.1M441.7 214.33h0.7M546 214.33h-0.7M441.7 201.25h0.7M546 201.25h-0.7M441.7 194.61h0.7M546 194.61h-0.7M441.7 189.9h0.7M546 189.9h-0.7M441.7 186.25h0.7M546 186.25h-0.7M441.7 183.26h0.7M546 183.26h-0.7M441.7 180.74h0.7M546 180.74h-0.7M441.7 178.55h0.7M546 178.55h-0.7M441.7 176.63h0.7M546 176.63h-0.7M441.7 163.55h0.7M546 163.55h-0.7M441.7 156.91h0.7M546 156.91h-0.7M441.7 152.2h0.7M546 152.2h-0.7M441.7 148.55h0.7M546 148.55h-0.7M441.7 145.56h0.7M546 145.56h-0.7M441.7 143.04h0.7M546 143.04h-0.7M441.7 140.85h0.7M546 140.85h-0.7M441.7 138.93h0.7M546 138.93h-0.7M445.71 214.5v-1.1M445.71 130.7v1.1M453.73 214.5v-1.1M453.73 130.7v1.1M461.76 214.5v-1.1M461.76 130.7v1.1M469.78 214.5v-1.1M469.78 130.7v1.1M477.8 214.5v-1.1M477.8 130.7v1.1M485.83 214.5v-1.1M485.83 130.7v1.1M493.85 214.5v-1.1M493.85 130.7v1.1M501.87 214.5v-1.1M501.87 130.7v1.1M509.9 214.5v-1.1M509.9 130.7v1.1M517.92 214.5v-1.1M517.92 130.7v1.1M525.94 214.5v-1.1M525.94 130.7v1.1M533.97 214.5v-1.1M533.97 130.7v1.1M541.99 214.5v-1.1M541.99 130.7v1.1" stroke="#2a2a2a" stroke-width="0.7" fill="none"/>
<path d="M442.51 214h6.4M445.71 210.8v6.4" stroke="#f00" stroke-width="0.9"/>
<path d="M453.73 137V138" stroke="#000" stroke-width="0.85" stroke-dasharray="2 1.8"/><path d="M452.73 137h2" stroke="#000" stroke-width="0.6"/><path d="M453.73 141.4V142.4" stroke="#000" stroke-width="0.85" stroke-dasharray="2 1.8"/><path d="M452.73 142.4h2" stroke="#000" stroke-width="0.6"/><rect x="451.88" y="138" width="3.7" height="3.4" rx="0.4" fill="none" stroke="#00f" stroke-width="0.8"/><path d="M451.88 139.6h3.7" stroke="#f00" stroke-width="0.7"/>
<path d="M461.76 161.6V163.4" stroke="#000" stroke-width="0.85" stroke-dasharray="2 1.8"/><path d="M460.76 163.4h2" stroke="#000" stroke-width="0.6"/><rect x="459.91" y="159" width="3.7" height="2.6" rx="0.4" fill="none" stroke="#00f" stroke-width="0.8"/><path d="M459.91 160.4h3.7" stroke="#f00" stroke-width="0.7"/>
<path d="M467.73 142.4h4.1" stroke="#d00a40" stroke-width="1.2"/>
<rect x="475.95" y="161.8" width="3.7" height="1.6" rx="0.5" fill="#7a0a90"/>
<path d="M485.83 132V133.4" stroke="#000" stroke-width="0.85" stroke-dasharray="2 1.8"/><path d="M484.83 132h2" stroke="#000" stroke-width="0.6"/><path d="M485.83 137V138.4" stroke="#000" stroke-width="0.85" stroke-dasharray="2 1.8"/><path d="M484.83 138.4h2" stroke="#000" stroke-width="0.6"/><rect x="483.98" y="133.4" width="3.7" height="3.6" rx="0.4" fill="none" stroke="#00f" stroke-width="0.8"/><path d="M483.98 135.6h3.7" stroke="#f00" stroke-width="0.7"/>
<rect x="492" y="139.6" width="3.7" height="6.8" rx="0.4" fill="none" stroke="#00f" stroke-width="0.8"/><path d="M492 143h3.7" stroke="#f00" stroke-width="0.7"/>
<path d="M501.87 148.4V149.4" stroke="#000" stroke-width="0.85" stroke-dasharray="2 1.8"/><path d="M500.87 149.4h2" stroke="#000" stroke-width="0.6"/><rect x="500.02" y="145.6" width="3.7" height="2.8" rx="0.4" fill="none" stroke="#00f" stroke-width="0.8"/><path d="M500.02 147h3.7" stroke="#f00" stroke-width="0.7"/>
<path d="M509.9 161V163" stroke="#000" stroke-width="0.85" stroke-dasharray="2 1.8"/><path d="M508.9 163h2" stroke="#000" stroke-width="0.6"/><rect x="508.05" y="150.4" width="3.7" height="10.6" rx="0.4" fill="none" stroke="#00f" stroke-width="0.8"/><path d="M508.05 154.6h3.7" stroke="#f00" stroke-width="0.7"/>
<path d="M515.87 143h4.1" stroke="#d00a40" stroke-width="1.2"/>
<rect x="524.09" y="161.2" width="3.7" height="1.6" rx="0.5" fill="#7a0a90"/>
<rect x="532.12" y="155.4" width="3.7" height="2.6" rx="0.4" fill="none" stroke="#00f" stroke-width="0.8"/><path d="M532.12 156.6h3.7" stroke="#f00" stroke-width="0.7"/>
<rect x="540.14" y="150" width="3.7" height="2" rx="0.4" fill="none" stroke="#00f" stroke-width="0.8"/><path d="M540.14 151h3.7" stroke="#f00" stroke-width="0.7"/>
<text transform="translate(440.4 140.7) scale(1 1.2)" text-anchor="end" font-size="6.2">10<tspan font-size="4.6" dy="-3.0">5</tspan></text>
<text transform="translate(440.4 178.4) scale(1 1.2)" text-anchor="end" font-size="6.2">10<tspan font-size="4.6" dy="-3.0">4</tspan></text>
<text transform="translate(440.4 216.1) scale(1 1.2)" text-anchor="end" font-size="6.2">10<tspan font-size="4.6" dy="-3.0">3</tspan></text>
<text transform="translate(448.56 216.4) rotate(-90) scale(1 1.2)" text-anchor="end" font-size="6.2">LOA</text>
<text transform="translate(456.58 216.4) rotate(-90) scale(1 1.2)" text-anchor="end" font-size="6.2">WSO</text>
<text transform="translate(464.61 216.4) rotate(-90) scale(1 1.2)" text-anchor="end" font-size="6.2">AVOA</text>
<text transform="translate(472.63 216.4) rotate(-90) scale(1 1.2)" text-anchor="end" font-size="6.2">RSA</text>
<text transform="translate(480.65 216.4) rotate(-90) scale(1 1.2)" text-anchor="end" font-size="6.2">MPA</text>
<text transform="translate(488.68 216.4) rotate(-90) scale(1 1.2)" text-anchor="end" font-size="6.2">TSA</text>
<text transform="translate(496.7 216.4) rotate(-90) scale(1 1.2)" text-anchor="end" font-size="6.2">WOA</text>
<text transform="translate(504.72 216.4) rotate(-90) scale(1 1.2)" text-anchor="end" font-size="6.2">MVO</text>
<text transform="translate(512.75 216.4) rotate(-90) scale(1 1.2)" text-anchor="end" font-size="6.2">GWO</text>
<text transform="translate(520.77 216.4) rotate(-90) scale(1 1.2)" text-anchor="end" font-size="6.2">TLBO</text>
<text transform="translate(528.79 216.4) rotate(-90) scale(1 1.2)" text-anchor="end" font-size="6.2">GSA</text>
<text transform="translate(536.82 216.4) rotate(-90) scale(1 1.2)" text-anchor="end" font-size="6.2">PSO</text>
<text transform="translate(544.84 216.4) rotate(-90) scale(1 1.2)" text-anchor="end" font-size="6.2">GA</text>
<text transform="translate(493.85 240.8) scale(1 1.2)" text-anchor="middle" font-size="7.05">algorithm</text>
<text transform="translate(493.85 128.8) scale(1 1.04)" text-anchor="middle" font-size="7.1" font-weight="bold" style="fill:#000;stroke:#000">C17-F9</text>
<text transform="translate(429.25 172.6) rotate(-90) scale(1 1.2)" text-anchor="middle" font-size="7.05">objective function</text>
<rect x="19.5" y="252.3" width="105" height="84.1" fill="#fff" stroke="#5a5a5a" stroke-width="0.7"/>
<path d="M19.5 257.5h1.1M124.5 257.5h-1.1M19.5 268.88h1.1M124.5 268.88h-1.1M19.5 282.82h1.1M124.5 282.82h-1.1M19.5 300.78h1.1M124.5 300.78h-1.1M19.5 326.1h1.1M124.5 326.1h-1.1M23.54 336.4v-1.1M23.54 252.3v1.1M31.62 336.4v-1.1M31.62 252.3v1.1M39.69 336.4v-1.1M39.69 252.3v1.1M47.77 336.4v-1.1M47.77 252.3v1.1M55.85 336.4v-1.1M55.85 252.3v1.1M63.92 336.4v-1.1M63.92 252.3v1.1M72 336.4v-1.1M72 252.3v1.1M80.08 336.4v-1.1M80.08 252.3v1.1M88.15 336.4v-1.1M88.15 252.3v1.1M96.23 336.4v-1.1M96.23 252.3v1.1M104.31 336.4v-1.1M104.31 252.3v1.1M112.38 336.4v-1.1M112.38 252.3v1.1M120.46 336.4v-1.1M120.46 252.3v1.1" stroke="#2a2a2a" stroke-width="0.7" fill="none"/>
<path d="M23.54 315.6V317" stroke="#000" stroke-width="0.85" stroke-dasharray="2 1.8"/><path d="M22.54 315.6h2" stroke="#000" stroke-width="0.6"/><rect x="21.69" y="317" width="3.7" height="7" rx="0.4" fill="none" stroke="#00f" stroke-width="0.8"/><path d="M21.69 319h3.7" stroke="#f00" stroke-width="0.7"/><path d="M22.74 328.4h1.6M23.54 327.6v1.6" stroke="#222" stroke-width="0.6"/>
<rect x="29.77" y="258.6" width="3.7" height="1.6" rx="0.5" fill="#7a0a90"/>
<path d="M39.69 290V292.4" stroke="#000" stroke-width="0.85" stroke-dasharray="2 1.8"/><path d="M38.69 290h2" stroke="#000" stroke-width="0.6"/><rect x="37.84" y="292.4" width="3.7" height="13.2" rx="0.4" fill="none" stroke="#00f" stroke-width="0.8"/><path d="M37.84 298h3.7" stroke="#f00" stroke-width="0.7"/><path d="M38.89 308.4h1.6M39.69 307.6v1.6" stroke="#222" stroke-width="0.6"/>
<rect x="45.92" y="256" width="3.7" height="2.4" rx="0.4" fill="none" stroke="#00f" stroke-width="0.8"/><path d="M45.92 257.2h3.7" stroke="#f00" stroke-width="0.7"/>
<path d="M55.85 303V304.4" stroke="#000" stroke-width="0.85" stroke-dasharray="2 1.8"/><path d="M54.85 303h2" stroke="#000" stroke-width="0.6"/><rect x="54" y="304.4" width="3.7" height="5.2" rx="0.4" fill="none" stroke="#00f" stroke-width="0.8"/><path d="M54 307h3.7" stroke="#f00" stroke-width="0.7"/>
<rect x="62.07" y="260" width="3.7" height="2.4" rx="0.4" fill="none" stroke="#00f" stroke-width="0.8"/><path d="M62.07 261.2h3.7" stroke="#f00" stroke-width="0.7"/>
<path d="M72 260.4V262" stroke="#000" stroke-width="0.85" stroke-dasharray="2 1.8"/><path d="M71 260.4h2" stroke="#000" stroke-width="0.6"/><rect x="70.15" y="262" width="3.7" height="3.4" rx="0.4" fill="none" stroke="#00f" stroke-width="0.8"/><path d="M70.15 263.6h3.7" stroke="#f00" stroke-width="0.7"/>
<rect x="78.23" y="293" width="3.7" height="3.4" rx="0.4" fill="none" stroke="#00f" stroke-width="0.8"/><path d="M78.23 294.8h3.7" stroke="#f00" stroke-width="0.7"/>
<path d="M88.15 303.6V306.6" stroke="#000" stroke-width="0.85" stroke-dasharray="2 1.8"/><path d="M87.15 306.6h2" stroke="#000" stroke-width="0.6"/><rect x="86.3" y="299.6" width="3.7" height="4" rx="0.4" fill="none" stroke="#00f" stroke-width="0.8"/><path d="M86.3 301.6h3.7" stroke="#f00" stroke-width="0.7"/>
<rect x="94.38" y="255.4" width="3.7" height="3.2" rx="0.4" fill="none" stroke="#00f" stroke-width="0.8"/><path d="M94.38 257h3.7" stroke="#f00" stroke-width="0.7"/>
<rect x="102.46" y="290.6" width="3.7" height="6.8" rx="0.4" fill="none" stroke="#00f" stroke-width="0.8"/><path d="M102.46 292.6h3.7" stroke="#f00" stroke-width="0.7"/><path d="M103.51 300h1.6M104.31 299.2v1.6" stroke="#222" stroke-width="0.6"/>
<rect x="110.53" y="291.4" width="3.7" height="6" rx="0.4" fill="none" stroke="#00f" stroke-width="0.8"/><path d="M110.53 293h3.7" stroke="#f00" stroke-width="0.7"/><path d="M111.58 300h1.6M112.38 299.2v1.6" stroke="#222" stroke-width="0.6"/>
<rect x="118.61" y="267.8" width="3.7" height="1.6" rx="0.5" fill="#7a0a90"/>
<text transform="translate(18.2 260.7) scale(1 1.2)" text-anchor="end" font-size="6.2">3</text>
<text transform="translate(18.2 272.08) scale(1 1.2)" text-anchor="end" font-size="6.2">2.5</text>
<text transform="translate(18.2 286.02) scale(1 1.2)" text-anchor="end" font-size="6.2">2</text>
<text transform="translate(18.2 303.98) scale(1 1.2)" text-anchor="end" font-size="6.2">1.5</text>
<text transform="translate(18.2 329.3) scale(1 1.2)" text-anchor="end" font-size="6.2">1</text>
<text transform="translate(19.8 250.7) scale(1 1.2)" font-size="6.2">×10<tspan font-size="4.6" dy="-3.0">4</tspan></text>
<text transform="translate(26.39 338.3) rotate(-90) scale(1 1.2)" text-anchor="end" font-size="6.2">LOA</text>
<text transform="translate(34.47 338.3) rotate(-90) scale(1 1.2)" text-anchor="end" font-size="6.2">WSO</text>
<text transform="translate(42.54 338.3) rotate(-90) scale(1 1.2)" text-anchor="end" font-size="6.2">AVOA</text>
<text transform="translate(50.62 338.3) rotate(-90) scale(1 1.2)" text-anchor="end" font-size="6.2">RSA</text>
<text transform="translate(58.7 338.3) rotate(-90) scale(1 1.2)" text-anchor="end" font-size="6.2">MPA</text>
<text transform="translate(66.77 338.3) rotate(-90) scale(1 1.2)" text-anchor="end" font-size="6.2">TSA</text>
<text transform="translate(74.85 338.3) rotate(-90) scale(1 1.2)" text-anchor="end" font-size="6.2">WOA</text>
<text transform="translate(82.93 338.3) rotate(-90) scale(1 1.2)" text-anchor="end" font-size="6.2">MVO</text>
<text transform="translate(91 338.3) rotate(-90) scale(1 1.2)" text-anchor="end" font-size="6.2">GWO</text>
<text transform="translate(99.08 338.3) rotate(-90) scale(1 1.2)" text-anchor="end" font-size="6.2">TLBO</text>
<text transform="translate(107.16 338.3) rotate(-90) scale(1 1.2)" text-anchor="end" font-size="6.2">GSA</text>
<text transform="translate(115.23 338.3) rotate(-90) scale(1 1.2)" text-anchor="end" font-size="6.2">PSO</text>
<text transform="translate(123.31 338.3) rotate(-90) scale(1 1.2)" text-anchor="end" font-size="6.2">GA</text>
<text transform="translate(72 362.7) scale(1 1.2)" text-anchor="middle" font-size="7.05">algorithm</text>
<text transform="translate(72 250.4) scale(1 1.04)" text-anchor="middle" font-size="7.1" font-weight="bold" style="fill:#000;stroke:#000">C17-F10</text>
<text transform="translate(6.55 294.35) rotate(-90) scale(1 1.2)" text-anchor="middle" font-size="7.05">objective function</text>
<rect x="160.2" y="252.3" width="104.6" height="84.1" fill="#fff" stroke="#5a5a5a" stroke-width="0.7"/>
<path d="M160.2 304h1.1M264.8 304h-1.1M160.2 268.9h1.1M264.8 268.9h-1.1M160.2 328.53h0.7M264.8 328.53h-0.7M160.2 322.35h0.7M264.8 322.35h-0.7M160.2 317.97h0.7M264.8 317.97h-0.7M160.2 314.57h0.7M264.8 314.57h-0.7M160.2 311.79h0.7M264.8 311.79h-0.7M160.2 309.44h0.7M264.8 309.44h-0.7M160.2 307.4h0.7M264.8 307.4h-0.7M160.2 305.61h0.7M264.8 305.61h-0.7M160.2 293.43h0.7M264.8 293.43h-0.7M160.2 287.25h0.7M264.8 287.25h-0.7M160.2 282.87h0.7M264.8 282.87h-0.7M160.2 279.47h0.7M264.8 279.47h-0.7M160.2 276.69h0.7M264.8 276.69h-0.7M160.2 274.34h0.7M264.8 274.34h-0.7M160.2 272.3h0.7M264.8 272.3h-0.7M160.2 270.51h0.7M264.8 270.51h-0.7M160.2 258.33h0.7M264.8 258.33h-0.7M164.22 336.4v-1.1M164.22 252.3v1.1M172.27 336.4v-1.1M172.27 252.3v1.1M180.32 336.4v-1.1M180.32 252.3v1.1M188.36 336.4v-1.1M188.36 252.3v1.1M196.41 336.4v-1.1M196.41 252.3v1.1M204.45 336.4v-1.1M204.45 252.3v1.1M212.5 336.4v-1.1M212.5 252.3v1.1M220.55 336.4v-1.1M220.55 252.3v1.1M228.59 336.4v-1.1M228.59 252.3v1.1M236.64 336.4v-1.1M236.64 252.3v1.1M244.68 336.4v-1.1M244.68 252.3v1.1M252.73 336.4v-1.1M252.73 252.3v1.1M260.78 336.4v-1.1M260.78 252.3v1.1" stroke="#2a2a2a" stroke-width="0.7" fill="none"/>
<rect x="162.37" y="335.2" width="3.7" height="1.6" rx="0.5" fill="#7a0a90"/>
<path d="M172.27 260.4V262" stroke="#000" stroke-width="0.85" stroke-dasharray="2 1.8"/><path d="M171.27 260.4h2" stroke="#000" stroke-width="0.6"/><path d="M172.27 265.4V267.4" stroke="#000" stroke-width="0.85" stroke-dasharray="2 1.8"/><path d="M171.27 267.4h2" stroke="#000" stroke-width="0.6"/><rect x="170.42" y="262" width="3.7" height="3.4" rx="0.4" fill="none" stroke="#00f" stroke-width="0.8"/><path d="M170.42 263.6h3.7" stroke="#f00" stroke-width="0.7"/>
<path d="M180.32 275V276.4" stroke="#000" stroke-width="0.85" stroke-dasharray="2 1.8"/><path d="M179.32 275h2" stroke="#000" stroke-width="0.6"/><rect x="178.47" y="276.4" width="3.7" height="2.8" rx="0.4" fill="none" stroke="#00f" stroke-width="0.8"/><path d="M178.47 277.6h3.7" stroke="#f00" stroke-width="0.7"/>
<path d="M188.36 255.4V258" stroke="#000" stroke-width="0.85" stroke-dasharray="2 1.8"/><path d="M187.36 255.4h2" stroke="#000" stroke-width="0.6"/><path d="M188.36 264V265.4" stroke="#000" stroke-width="0.85" stroke-dasharray="2 1.8"/><path d="M187.36 265.4h2" stroke="#000" stroke-width="0.6"/><rect x="186.51" y="258" width="3.7" height="6" rx="0.4" fill="none" stroke="#00f" stroke-width="0.8"/><path d="M186.51 261.4h3.7" stroke="#f00" stroke-width="0.7"/>
<path d="M196.41 312.6V314" stroke="#000" stroke-width="0.85" stroke-dasharray="2 1.8"/><path d="M195.41 312.6h2" stroke="#000" stroke-width="0.6"/><path d="M196.41 318V319.4" stroke="#000" stroke-width="0.85" stroke-dasharray="2 1.8"/><path d="M195.41 319.4h2" stroke="#000" stroke-width="0.6"/><rect x="194.56" y="314" width="3.7" height="4" rx="0.4" fill="none" stroke="#00f" stroke-width="0.8"/><path d="M194.56 316h3.7" stroke="#f00" stroke-width="0.7"/>
<path d="M204.45 272.4V274" stroke="#000" stroke-width="0.85" stroke-dasharray="2 1.8"/><path d="M203.45 272.4h2" stroke="#000" stroke-width="0.6"/><path d="M204.45 282.4V286" stroke="#000" stroke-width="0.85" stroke-dasharray="2 1.8"/><path d="M203.45 286h2" stroke="#000" stroke-width="0.6"/><rect x="202.6" y="274" width="3.7" height="8.4" rx="0.4" fill="none" stroke="#00f" stroke-width="0.8"/><path d="M202.6 276h3.7" stroke="#f00" stroke-width="0.7"/><path d="M203.65 289h1.6M204.45 288.2v1.6" stroke="#222" stroke-width="0.6"/>
<path d="M212.5 253.4V255.4" stroke="#000" stroke-width="0.85" stroke-dasharray="2 1.8"/><path d="M211.5 253.4h2" stroke="#000" stroke-width="0.6"/><path d="M212.5 268V268.4" stroke="#000" stroke-width="0.85" stroke-dasharray="2 1.8"/><path d="M211.5 268.4h2" stroke="#000" stroke-width="0.6"/><rect x="210.65" y="255.4" width="3.7" height="12.6" rx="0.4" fill="none" stroke="#00f" stroke-width="0.8"/><path d="M210.65 261.4h3.7" stroke="#f00" stroke-width="0.7"/>
<rect x="218.7" y="315" width="3.7" height="2.2" rx="0.4" fill="none" stroke="#00f" stroke-width="0.8"/><path d="M218.7 316h3.7" stroke="#f00" stroke-width="0.7"/>
<path d="M228.59 270V271.4" stroke="#000" stroke-width="0.85" stroke-dasharray="2 1.8"/><path d="M227.59 270h2" stroke="#000" stroke-width="0.6"/><rect x="226.74" y="271.4" width="3.7" height="3.6" rx="0.4" fill="none" stroke="#00f" stroke-width="0.8"/><path d="M226.74 273.4h3.7" stroke="#f00" stroke-width="0.7"/>
<path d="M236.64 272.4V274.4" stroke="#000" stroke-width="0.85" stroke-dasharray="2 1.8"/><path d="M235.64 272.4h2" stroke="#000" stroke-width="0.6"/><rect x="234.79" y="274.4" width="3.7" height="3.6" rx="0.4" fill="none" stroke="#00f" stroke-width="0.8"/><path d="M234.79 276h3.7" stroke="#f00" stroke-width="0.7"/>
<path d="M244.68 259.6V261.4" stroke="#000" stroke-width="0.85" stroke-dasharray="2 1.8"/><path d="M243.68 259.6h2" stroke="#000" stroke-width="0.6"/><path d="M244.68 265V266.4" stroke="#000" stroke-width="0.85" stroke-dasharray="2 1.8"/><path d="M243.68 266.4h2" stroke="#000" stroke-width="0.6"/><rect x="242.83" y="261.4" width="3.7" height="3.6" rx="0.4" fill="none" stroke="#00f" stroke-width="0.8"/><path d="M242.83 263.4h3.7" stroke="#f00" stroke-width="0.7"/>
<path d="M252.73 270.6V275" stroke="#000" stroke-width="0.85" stroke-dasharray="2 1.8"/><path d="M251.73 270.6h2" stroke="#000" stroke-width="0.6"/><path d="M252.73 289.4V292" stroke="#000" stroke-width="0.85" stroke-dasharray="2 1.8"/><path d="M251.73 292h2" stroke="#000" stroke-width="0.6"/><rect x="250.88" y="275" width="3.7" height="14.4" rx="0.4" fill="none" stroke="#00f" stroke-width="0.8"/><path d="M250.88 285.4h3.7" stroke="#f00" stroke-width="0.7"/>
<path d="M260.78 262V264.4" stroke="#000" stroke-width="0.85" stroke-dasharray="2 1.8"/><path d="M259.78 262h2" stroke="#000" stroke-width="0.6"/><rect x="258.93" y="264.4" width="3.7" height="5.6" rx="0.4" fill="none" stroke="#00f" stroke-width="0.8"/><path d="M258.93 267.4h3.7" stroke="#f00" stroke-width="0.7"/>
<text transform="translate(158.9 272.4) scale(1 1.2)" text-anchor="end" font-size="6.2">10<tspan font-size="4.6" dy="-3.0">5</tspan></text>
<text transform="translate(158.9 307.5) scale(1 1.2)" text-anchor="end" font-size="6.2">10<tspan font-size="4.6" dy="-3.0">4</tspan></text>
<text transform="translate(167.07 338.3) rotate(-90) scale(1 1.2)" text-anchor="end" font-size="6.2">LOA</text>
<text transform="translate(175.12 338.3) rotate(-90) scale(1 1.2)" text-anchor="end" font-size="6.2">WSO</text>
<text transform="translate(183.17 338.3) rotate(-90) scale(1 1.2)" text-anchor="end" font-size="6.2">AVOA</text>
<text transform="translate(191.21 338.3) rotate(-90) scale(1 1.2)" text-anchor="end" font-size="6.2">RSA</text>
<text transform="translate(199.26 338.3) rotate(-90) scale(1 1.2)" text-anchor="end" font-size="6.2">MPA</text>
<text transform="translate(207.3 338.3) rotate(-90) scale(1 1.2)" text-anchor="end" font-size="6.2">TSA</text>
<text transform="translate(215.35 338.3) rotate(-90) scale(1 1.2)" text-anchor="end" font-size="6.2">WOA</text>
<text transform="translate(223.4 338.3) rotate(-90) scale(1 1.2)" text-anchor="end" font-size="6.2">MVO</text>
<text transform="translate(231.44 338.3) rotate(-90) scale(1 1.2)" text-anchor="end" font-size="6.2">GWO</text>
<text transform="translate(239.49 338.3) rotate(-90) scale(1 1.2)" text-anchor="end" font-size="6.2">TLBO</text>
<text transform="translate(247.53 338.3) rotate(-90) scale(1 1.2)" text-anchor="end" font-size="6.2">GSA</text>
<text transform="translate(255.58 338.3) rotate(-90) scale(1 1.2)" text-anchor="end" font-size="6.2">PSO</text>
<text transform="translate(263.63 338.3) rotate(-90) scale(1 1.2)" text-anchor="end" font-size="6.2">GA</text>
<text transform="translate(212.5 362.7) scale(1 1.2)" text-anchor="middle" font-size="7.05">algorithm</text>
<text transform="translate(212.5 250.4) scale(1 1.04)" text-anchor="middle" font-size="7.1" font-weight="bold" style="fill:#000;stroke:#000">C17-F11</text>
<text transform="translate(148.25 294.35) rotate(-90) scale(1 1.2)" text-anchor="middle" font-size="7.05">objective function</text>
<rect x="303.5" y="252.3" width="102" height="84.1" fill="#fff" stroke="#5a5a5a" stroke-width="0.7"/>
<path d="M303.5 334.24h1.1M405.5 334.24h-1.1M303.5 323.1h1.1M405.5 323.1h-1.1M303.5 311.96h1.1M405.5 311.96h-1.1M303.5 300.82h1.1M405.5 300.82h-1.1M303.5 289.68h1.1M405.5 289.68h-1.1M303.5 278.54h1.1M405.5 278.54h-1.1M303.5 267.4h1.1M405.5 267.4h-1.1M303.5 256.26h1.1M405.5 256.26h-1.1M307.42 336.4v-1.1M307.42 252.3v1.1M315.27 336.4v-1.1M315.27 252.3v1.1M323.12 336.4v-1.1M323.12 252.3v1.1M330.96 336.4v-1.1M330.96 252.3v1.1M338.81 336.4v-1.1M338.81 252.3v1.1M346.65 336.4v-1.1M346.65 252.3v1.1M354.5 336.4v-1.1M354.5 252.3v1.1M362.35 336.4v-1.1M362.35 252.3v1.1M370.19 336.4v-1.1M370.19 252.3v1.1M378.04 336.4v-1.1M378.04 252.3v1.1M385.88 336.4v-1.1M385.88 252.3v1.1M393.73 336.4v-1.1M393.73 252.3v1.1M401.58 336.4v-1.1M401.58 252.3v1.1" stroke="#2a2a2a" stroke-width="0.7" fill="none"/>
<rect x="305.57" y="335.2" width="3.7" height="1.6" rx="0.5" fill="#7a0a90"/>
<rect x="313.42" y="255.4" width="3.7" height="1.6" rx="0.4" fill="none" stroke="#00f" stroke-width="0.8"/><path d="M313.42 256.2h3.7" stroke="#f00" stroke-width="0.7"/>
<path d="M323.12 277.4V278.6" stroke="#000" stroke-width="0.85" stroke-dasharray="2 1.8"/><path d="M322.12 277.4h2" stroke="#000" stroke-width="0.6"/><path d="M323.12 283V284" stroke="#000" stroke-width="0.85" stroke-dasharray="2 1.8"/><path d="M322.12 284h2" stroke="#000" stroke-width="0.6"/><rect x="321.27" y="278.6" width="3.7" height="4.4" rx="0.4" fill="none" stroke="#00f" stroke-width="0.8"/><path d="M321.27 280.6h3.7" stroke="#f00" stroke-width="0.7"/>
<rect x="329.11" y="253" width="3.7" height="2" rx="0.4" fill="none" stroke="#00f" stroke-width="0.8"/><path d="M329.11 254h3.7" stroke="#f00" stroke-width="0.7"/>
<path d="M338.81 286V287.6" stroke="#000" stroke-width="0.85" stroke-dasharray="2 1.8"/><path d="M337.81 287.6h2" stroke="#000" stroke-width="0.6"/><rect x="336.96" y="284" width="3.7" height="2" rx="0.4" fill="none" stroke="#00f" stroke-width="0.8"/><path d="M336.96 285h3.7" stroke="#f00" stroke-width="0.7"/>
<path d="M346.65 256V257.4" stroke="#000" stroke-width="0.85" stroke-dasharray="2 1.8"/><path d="M345.65 256h2" stroke="#000" stroke-width="0.6"/><path d="M346.65 261.4V262.6" stroke="#000" stroke-width="0.85" stroke-dasharray="2 1.8"/><path d="M345.65 262.6h2" stroke="#000" stroke-width="0.6"/><rect x="344.8" y="257.4" width="3.7" height="4" rx="0.4" fill="none" stroke="#00f" stroke-width="0.8"/><path d="M344.8 259.4h3.7" stroke="#f00" stroke-width="0.7"/>
<rect x="352.65" y="265.6" width="3.7" height="1.6" rx="0.5" fill="#7a0a90"/>
<path d="M362.35 280.6V282" stroke="#000" stroke-width="0.85" stroke-dasharray="2 1.8"/><path d="M361.35 280.6h2" stroke="#000" stroke-width="0.6"/><path d="M362.35 286V287" stroke="#000" stroke-width="0.85" stroke-dasharray="2 1.8"/><path d="M361.35 287h2" stroke="#000" stroke-width="0.6"/><rect x="360.5" y="282" width="3.7" height="4" rx="0.4" fill="none" stroke="#00f" stroke-width="0.8"/><path d="M360.5 284h3.7" stroke="#f00" stroke-width="0.7"/>
<rect x="368.34" y="266.2" width="3.7" height="1.6" rx="0.5" fill="#7a0a90"/>
<rect x="376.19" y="262.6" width="3.7" height="1.8" rx="0.4" fill="none" stroke="#00f" stroke-width="0.8"/><path d="M376.19 263.4h3.7" stroke="#f00" stroke-width="0.7"/>
<rect x="384.03" y="257.6" width="3.7" height="1.6" rx="0.5" fill="#7a0a90"/>
<path d="M393.73 263.6V264.4" stroke="#000" stroke-width="0.85" stroke-dasharray="2 1.8"/><path d="M392.73 263.6h2" stroke="#000" stroke-width="0.6"/><rect x="391.88" y="264.4" width="3.7" height="8.6" rx="0.4" fill="none" stroke="#00f" stroke-width="0.8"/><path d="M391.88 267.6h3.7" stroke="#f00" stroke-width="0.7"/><path d="M392.93 276h1.6M393.73 275.2v1.6" stroke="#222" stroke-width="0.6"/>
<rect x="399.73" y="265.8" width="3.7" height="1.6" rx="0.5" fill="#7a0a90"/>
<text transform="translate(302.2 270.9) scale(1 1.2)" text-anchor="end" font-size="6.2">10<tspan font-size="4.6" dy="-3.0">10</tspan></text>
<text transform="translate(302.2 326.6) scale(1 1.2)" text-anchor="end" font-size="6.2">10<tspan font-size="4.6" dy="-3.0">5</tspan></text>
<text transform="translate(310.27 338.3) rotate(-90) scale(1 1.2)" text-anchor="end" font-size="6.2">LOA</text>
<text transform="translate(318.12 338.3) rotate(-90) scale(1 1.2)" text-anchor="end" font-size="6.2">WSO</text>
<text transform="translate(325.97 338.3) rotate(-90) scale(1 1.2)" text-anchor="end" font-size="6.2">AVOA</text>
<text transform="translate(333.81 338.3) rotate(-90) scale(1 1.2)" text-anchor="end" font-size="6.2">RSA</text>
<text transform="translate(341.66 338.3) rotate(-90) scale(1 1.2)" text-anchor="end" font-size="6.2">MPA</text>
<text transform="translate(349.5 338.3) rotate(-90) scale(1 1.2)" text-anchor="end" font-size="6.2">TSA</text>
<text transform="translate(357.35 338.3) rotate(-90) scale(1 1.2)" text-anchor="end" font-size="6.2">WOA</text>
<text transform="translate(365.2 338.3) rotate(-90) scale(1 1.2)" text-anchor="end" font-size="6.2">MVO</text>
<text transform="translate(373.04 338.3) rotate(-90) scale(1 1.2)" text-anchor="end" font-size="6.2">GWO</text>
<text transform="translate(380.89 338.3) rotate(-90) scale(1 1.2)" text-anchor="end" font-size="6.2">TLBO</text>
<text transform="translate(388.73 338.3) rotate(-90) scale(1 1.2)" text-anchor="end" font-size="6.2">GSA</text>
<text transform="translate(396.58 338.3) rotate(-90) scale(1 1.2)" text-anchor="end" font-size="6.2">PSO</text>
<text transform="translate(404.43 338.3) rotate(-90) scale(1 1.2)" text-anchor="end" font-size="6.2">GA</text>
<text transform="translate(354.5 362.7) scale(1 1.2)" text-anchor="middle" font-size="7.05">algorithm</text>
<text transform="translate(354.5 250.4) scale(1 1.04)" text-anchor="middle" font-size="7.1" font-weight="bold" style="fill:#000;stroke:#000">C17-F12</text>
<text transform="translate(289.05 294.35) rotate(-90) scale(1 1.2)" text-anchor="middle" font-size="7.05">objective function</text>
<rect x="444.1" y="252.3" width="101.9" height="84.1" fill="#fff" stroke="#5a5a5a" stroke-width="0.7"/>
<path d="M444.1 327.36h1.1M546 327.36h-1.1M444.1 316.3h1.1M546 316.3h-1.1M444.1 305.24h1.1M546 305.24h-1.1M444.1 294.18h1.1M546 294.18h-1.1M444.1 283.12h1.1M546 283.12h-1.1M444.1 272.06h1.1M546 272.06h-1.1M444.1 261h1.1M546 261h-1.1M448.02 336.4v-1.1M448.02 252.3v1.1M455.86 336.4v-1.1M455.86 252.3v1.1M463.7 336.4v-1.1M463.7 252.3v1.1M471.53 336.4v-1.1M471.53 252.3v1.1M479.37 336.4v-1.1M479.37 252.3v1.1M487.21 336.4v-1.1M487.21 252.3v1.1M495.05 336.4v-1.1M495.05 252.3v1.1M502.89 336.4v-1.1M502.89 252.3v1.1M510.73 336.4v-1.1M510.73 252.3v1.1M518.57 336.4v-1.1M518.57 252.3v1.1M526.4 336.4v-1.1M526.4 252.3v1.1M534.24 336.4v-1.1M534.24 252.3v1.1M542.08 336.4v-1.1M542.08 252.3v1.1" stroke="#2a2a2a" stroke-width="0.7" fill="none"/>
<path d="M445.97 336.2h4.1" stroke="#d00a40" stroke-width="1.2"/>
<rect x="454.01" y="254.8" width="3.7" height="1.6" rx="0.5" fill="#7a0a90"/>
<rect x="461.85" y="315" width="3.7" height="2.6" rx="0.4" fill="none" stroke="#00f" stroke-width="0.8"/><path d="M461.85 316.4h3.7" stroke="#f00" stroke-width="0.7"/>
<path d="M471.53 254.4V255" stroke="#000" stroke-width="0.85" stroke-dasharray="2 1.8"/><path d="M470.53 255h2" stroke="#000" stroke-width="0.6"/><rect x="469.68" y="252.8" width="3.7" height="1.6" rx="0.4" fill="none" stroke="#00f" stroke-width="0.8"/><path d="M469.68 253.6h3.7" stroke="#f00" stroke-width="0.7"/>
<path d="M479.37 312V314" stroke="#000" stroke-width="0.85" stroke-dasharray="2 1.8"/><path d="M478.37 312h2" stroke="#000" stroke-width="0.6"/><rect x="477.52" y="314" width="3.7" height="6.4" rx="0.4" fill="none" stroke="#00f" stroke-width="0.8"/><path d="M477.52 320h3.7" stroke="#f00" stroke-width="0.7"/>
<rect x="485.36" y="256.4" width="3.7" height="2" rx="0.4" fill="none" stroke="#00f" stroke-width="0.8"/><path d="M485.36 257.4h3.7" stroke="#f00" stroke-width="0.7"/>
<rect x="493.2" y="273.6" width="3.7" height="2.8" rx="0.4" fill="none" stroke="#00f" stroke-width="0.8"/><path d="M493.2 275h3.7" stroke="#f00" stroke-width="0.7"/>
<rect x="501.04" y="309.2" width="3.7" height="1.6" rx="0.5" fill="#7a0a90"/>
<path d="M510.73 267.6V269.4" stroke="#000" stroke-width="0.85" stroke-dasharray="2 1.8"/><path d="M509.73 267.6h2" stroke="#000" stroke-width="0.6"/><path d="M510.73 281.4V284" stroke="#000" stroke-width="0.85" stroke-dasharray="2 1.8"/><path d="M509.73 284h2" stroke="#000" stroke-width="0.6"/><rect x="508.88" y="269.4" width="3.7" height="12" rx="0.4" fill="none" stroke="#00f" stroke-width="0.8"/><path d="M508.88 274.4h3.7" stroke="#f00" stroke-width="0.7"/>
<rect x="516.72" y="266" width="3.7" height="2" rx="0.4" fill="none" stroke="#00f" stroke-width="0.8"/><path d="M516.72 267h3.7" stroke="#f00" stroke-width="0.7"/>
<path d="M526.4 262.6V264" stroke="#000" stroke-width="0.85" stroke-dasharray="2 1.8"/><path d="M525.4 264h2" stroke="#000" stroke-width="0.6"/><rect x="524.55" y="260.4" width="3.7" height="2.2" rx="0.4" fill="none" stroke="#00f" stroke-width="0.8"/><path d="M524.55 261.4h3.7" stroke="#f00" stroke-width="0.7"/>
<rect x="532.39" y="266.4" width="3.7" height="9" rx="0.4" fill="none" stroke="#00f" stroke-width="0.8"/><path d="M532.39 269.4h3.7" stroke="#f00" stroke-width="0.7"/><path d="M533.44 279h1.6M534.24 278.2v1.6" stroke="#222" stroke-width="0.6"/>
<rect x="540.23" y="279.4" width="3.7" height="1.6" rx="0.4" fill="none" stroke="#00f" stroke-width="0.8"/><path d="M540.23 280.2h3.7" stroke="#f00" stroke-width="0.7"/>
<text transform="translate(442.8 264.5) scale(1 1.2)" text-anchor="end" font-size="6.2">10<tspan font-size="4.6" dy="-3.0">10</tspan></text>
<text transform="translate(442.8 319.8) scale(1 1.2)" text-anchor="end" font-size="6.2">10<tspan font-size="4.6" dy="-3.0">5</tspan></text>
<text transform="translate(450.87 338.3) rotate(-90) scale(1 1.2)" text-anchor="end" font-size="6.2">LOA</text>
<text transform="translate(458.71 338.3) rotate(-90) scale(1 1.2)" text-anchor="end" font-size="6.2">WSO</text>
<text transform="translate(466.55 338.3) rotate(-90) scale(1 1.2)" text-anchor="end" font-size="6.2">AVOA</text>
<text transform="translate(474.38 338.3) rotate(-90) scale(1 1.2)" text-anchor="end" font-size="6.2">RSA</text>
<text transform="translate(482.22 338.3) rotate(-90) scale(1 1.2)" text-anchor="end" font-size="6.2">MPA</text>
<text transform="translate(490.06 338.3) rotate(-90) scale(1 1.2)" text-anchor="end" font-size="6.2">TSA</text>
<text transform="translate(497.9 338.3) rotate(-90) scale(1 1.2)" text-anchor="end" font-size="6.2">WOA</text>
<text transform="translate(505.74 338.3) rotate(-90) scale(1 1.2)" text-anchor="end" font-size="6.2">MVO</text>
<text transform="translate(513.58 338.3) rotate(-90) scale(1 1.2)" text-anchor="end" font-size="6.2">GWO</text>
<text transform="translate(521.42 338.3) rotate(-90) scale(1 1.2)" text-anchor="end" font-size="6.2">TLBO</text>
<text transform="translate(529.25 338.3) rotate(-90) scale(1 1.2)" text-anchor="end" font-size="6.2">GSA</text>
<text transform="translate(537.09 338.3) rotate(-90) scale(1 1.2)" text-anchor="end" font-size="6.2">PSO</text>
<text transform="translate(544.93 338.3) rotate(-90) scale(1 1.2)" text-anchor="end" font-size="6.2">GA</text>
<text transform="translate(495.05 362.7) scale(1 1.2)" text-anchor="middle" font-size="7.05">algorithm</text>
<text transform="translate(495.05 250.4) scale(1 1.04)" text-anchor="middle" font-size="7.1" font-weight="bold" style="fill:#000;stroke:#000">C17-F13</text>
<text transform="translate(428.95 294.35) rotate(-90) scale(1 1.2)" text-anchor="middle" font-size="7.05">objective function</text>
<rect x="20.2" y="374.4" width="104.3" height="83.9" fill="#fff" stroke="#5a5a5a" stroke-width="0.7"/>
<path d="M20.2 443h1.1M124.5 443h-1.1M20.2 425.5h1.1M124.5 425.5h-1.1M20.2 408h1.1M124.5 408h-1.1M20.2 390.5h1.1M124.5 390.5h-1.1M20.2 455.23h0.7M124.5 455.23h-0.7M20.2 452.15h0.7M124.5 452.15h-0.7M20.2 449.96h0.7M124.5 449.96h-0.7M20.2 448.27h0.7M124.5 448.27h-0.7M20.2 446.88h0.7M124.5 446.88h-0.7M20.2 445.71h0.7M124.5 445.71h-0.7M20.2 444.7h0.7M124.5 444.7h-0.7M20.2 443.8h0.7M124.5 443.8h-0.7M20.2 437.73h0.7M124.5 437.73h-0.7M20.2 434.65h0.7M124.5 434.65h-0.7M20.2 432.46h0.7M124.5 432.46h-0.7M20.2 430.77h0.7M124.5 430.77h-0.7M20.2 429.38h0.7M124.5 429.38h-0.7M20.2 428.21h0.7M124.5 428.21h-0.7M20.2 427.2h0.7M124.5 427.2h-0.7M20.2 426.3h0.7M124.5 426.3h-0.7M20.2 420.23h0.7M124.5 420.23h-0.7M20.2 417.15h0.7M124.5 417.15h-0.7M20.2 414.96h0.7M124.5 414.96h-0.7M20.2 413.27h0.7M124.5 413.27h-0.7M20.2 411.88h0.7M124.5 411.88h-0.7M20.2 410.71h0.7M124.5 410.71h-0.7M20.2 409.7h0.7M124.5 409.7h-0.7M20.2 408.8h0.7M124.5 408.8h-0.7M20.2 402.73h0.7M124.5 402.73h-0.7M20.2 399.65h0.7M124.5 399.65h-0.7M20.2 397.46h0.7M124.5 397.46h-0.7M20.2 395.77h0.7M124.5 395.77h-0.7M20.2 394.38h0.7M124.5 394.38h-0.7M20.2 393.21h0.7M124.5 393.21h-0.7M20.2 392.2h0.7M124.5 392.2h-0.7M20.2 391.3h0.7M124.5 391.3h-0.7M20.2 385.23h0.7M124.5 385.23h-0.7M20.2 382.15h0.7M124.5 382.15h-0.7M20.2 379.96h0.7M124.5 379.96h-0.7M20.2 378.27h0.7M124.5 378.27h-0.7M20.2 376.88h0.7M124.5 376.88h-0.7M20.2 375.71h0.7M124.5 375.71h-0.7M20.2 374.7h0.7M124.5 374.7h-0.7M24.21 458.3v-1.1M24.21 374.4v1.1M32.23 458.3v-1.1M32.23 374.4v1.1M40.26 458.3v-1.1M40.26 374.4v1.1M48.28 458.3v-1.1M48.28 374.4v1.1M56.3 458.3v-1.1M56.3 374.4v1.1M64.33 458.3v-1.1M64.33 374.4v1.1M72.35 458.3v-1.1M72.35 374.4v1.1M80.37 458.3v-1.1M80.37 374.4v1.1M88.4 458.3v-1.1M88.4 374.4v1.1M96.42 458.3v-1.1M96.42 374.4v1.1M104.44 458.3v-1.1M104.44 374.4v1.1M112.47 458.3v-1.1M112.47 374.4v1.1M120.49 458.3v-1.1M120.49 374.4v1.1" stroke="#2a2a2a" stroke-width="0.7" fill="none"/>
<path d="M22.16 458.2h4.1" stroke="#d00a40" stroke-width="1.2"/>
<rect x="30.38" y="378.9" width="3.7" height="2.2" rx="0.4" fill="none" stroke="#00f" stroke-width="0.8"/><path d="M30.38 380h3.7" stroke="#f00" stroke-width="0.7"/>
<path d="M40.26 390.4V392.6" stroke="#000" stroke-width="0.85" stroke-dasharray="2 1.8"/><path d="M39.26 390.4h2" stroke="#000" stroke-width="0.6"/><path d="M40.26 397.6V398.6" stroke="#000" stroke-width="0.85" stroke-dasharray="2 1.8"/><path d="M39.26 398.6h2" stroke="#000" stroke-width="0.6"/><rect x="38.41" y="392.6" width="3.7" height="5" rx="0.4" fill="none" stroke="#00f" stroke-width="0.8"/><path d="M38.41 395.4h3.7" stroke="#f00" stroke-width="0.7"/>
<rect x="46.43" y="374.6" width="3.7" height="1.6" rx="0.5" fill="#7a0a90"/>
<path d="M56.3 421V423.6" stroke="#000" stroke-width="0.85" stroke-dasharray="2 1.8"/><path d="M55.3 421h2" stroke="#000" stroke-width="0.6"/><path d="M56.3 434.6V436.6" stroke="#000" stroke-width="0.85" stroke-dasharray="2 1.8"/><path d="M55.3 436.6h2" stroke="#000" stroke-width="0.6"/><rect x="54.45" y="423.6" width="3.7" height="11" rx="0.4" fill="none" stroke="#00f" stroke-width="0.8"/><path d="M54.45 429.4h3.7" stroke="#f00" stroke-width="0.7"/>
<path d="M64.33 387V389.6" stroke="#000" stroke-width="0.85" stroke-dasharray="2 1.8"/><path d="M63.33 387h2" stroke="#000" stroke-width="0.6"/><path d="M64.33 398V398.4" stroke="#000" stroke-width="0.85" stroke-dasharray="2 1.8"/><path d="M63.33 398.4h2" stroke="#000" stroke-width="0.6"/><rect x="62.48" y="389.6" width="3.7" height="8.4" rx="0.4" fill="none" stroke="#00f" stroke-width="0.8"/><path d="M62.48 394h3.7" stroke="#f00" stroke-width="0.7"/>
<path d="M72.35 386V387" stroke="#000" stroke-width="0.85" stroke-dasharray="2 1.8"/><path d="M71.35 386h2" stroke="#000" stroke-width="0.6"/><path d="M72.35 390.4V392" stroke="#000" stroke-width="0.85" stroke-dasharray="2 1.8"/><path d="M71.35 392h2" stroke="#000" stroke-width="0.6"/><rect x="70.5" y="387" width="3.7" height="3.4" rx="0.4" fill="none" stroke="#00f" stroke-width="0.8"/><path d="M70.5 388.4h3.7" stroke="#f00" stroke-width="0.7"/>
<path d="M80.37 403.4V406.4" stroke="#000" stroke-width="0.85" stroke-dasharray="2 1.8"/><path d="M79.37 406.4h2" stroke="#000" stroke-width="0.6"/><rect x="78.52" y="398.6" width="3.7" height="4.8" rx="0.4" fill="none" stroke="#00f" stroke-width="0.8"/><path d="M78.52 399.6h3.7" stroke="#f00" stroke-width="0.7"/><path d="M79.57 409h1.6M80.37 408.2v1.6" stroke="#222" stroke-width="0.6"/>
<path d="M88.4 388V390" stroke="#000" stroke-width="0.85" stroke-dasharray="2 1.8"/><path d="M87.4 388h2" stroke="#000" stroke-width="0.6"/><path d="M88.4 394.6V395.4" stroke="#000" stroke-width="0.85" stroke-dasharray="2 1.8"/><path d="M87.4 395.4h2" stroke="#000" stroke-width="0.6"/><rect x="86.55" y="390" width="3.7" height="4.6" rx="0.4" fill="none" stroke="#00f" stroke-width="0.8"/><path d="M86.55 392h3.7" stroke="#f00" stroke-width="0.7"/>
<rect x="94.57" y="387.4" width="3.7" height="3.6" rx="0.4" fill="none" stroke="#00f" stroke-width="0.8"/><path d="M94.57 389h3.7" stroke="#f00" stroke-width="0.7"/>
<path d="M104.44 387.6V389" stroke="#000" stroke-width="0.85" stroke-dasharray="2 1.8"/><path d="M103.44 387.6h2" stroke="#000" stroke-width="0.6"/><rect x="102.59" y="389" width="3.7" height="3.6" rx="0.4" fill="none" stroke="#00f" stroke-width="0.8"/><path d="M102.59 390.6h3.7" stroke="#f00" stroke-width="0.7"/>
<path d="M112.47 405V407.6" stroke="#000" stroke-width="0.85" stroke-dasharray="2 1.8"/><path d="M111.47 405h2" stroke="#000" stroke-width="0.6"/><path d="M112.47 415.4V416.4" stroke="#000" stroke-width="0.85" stroke-dasharray="2 1.8"/><path d="M111.47 416.4h2" stroke="#000" stroke-width="0.6"/><rect x="110.62" y="407.6" width="3.7" height="7.8" rx="0.4" fill="none" stroke="#00f" stroke-width="0.8"/><path d="M110.62 413.4h3.7" stroke="#f00" stroke-width="0.7"/>
<path d="M120.49 388V389.6" stroke="#000" stroke-width="0.85" stroke-dasharray="2 1.8"/><path d="M119.49 388h2" stroke="#000" stroke-width="0.6"/><path d="M120.49 393.4V394.6" stroke="#000" stroke-width="0.85" stroke-dasharray="2 1.8"/><path d="M119.49 394.6h2" stroke="#000" stroke-width="0.6"/><rect x="118.64" y="389.6" width="3.7" height="3.8" rx="0.4" fill="none" stroke="#00f" stroke-width="0.8"/><path d="M118.64 391.6h3.7" stroke="#f00" stroke-width="0.7"/>
<text transform="translate(18.9 411.5) scale(1 1.2)" text-anchor="end" font-size="6.2">10<tspan font-size="4.6" dy="-3.0">6</tspan></text>
<text transform="translate(18.9 446.5) scale(1 1.2)" text-anchor="end" font-size="6.2">10<tspan font-size="4.6" dy="-3.0">4</tspan></text>
<text transform="translate(27.06 460.2) rotate(-90) scale(1 1.2)" text-anchor="end" font-size="6.2">LOA</text>
<text transform="translate(35.08 460.2) rotate(-90) scale(1 1.2)" text-anchor="end" font-size="6.2">WSO</text>
<text transform="translate(43.11 460.2) rotate(-90) scale(1 1.2)" text-anchor="end" font-size="6.2">AVOA</text>
<text transform="translate(51.13 460.2) rotate(-90) scale(1 1.2)" text-anchor="end" font-size="6.2">RSA</text>
<text transform="translate(59.15 460.2) rotate(-90) scale(1 1.2)" text-anchor="end" font-size="6.2">MPA</text>
<text transform="translate(67.18 460.2) rotate(-90) scale(1 1.2)" text-anchor="end" font-size="6.2">TSA</text>
<text transform="translate(75.2 460.2) rotate(-90) scale(1 1.2)" text-anchor="end" font-size="6.2">WOA</text>
<text transform="translate(83.22 460.2) rotate(-90) scale(1 1.2)" text-anchor="end" font-size="6.2">MVO</text>
<text transform="translate(91.25 460.2) rotate(-90) scale(1 1.2)" text-anchor="end" font-size="6.2">GWO</text>
<text transform="translate(99.27 460.2) rotate(-90) scale(1 1.2)" text-anchor="end" font-size="6.2">TLBO</text>
<text transform="translate(107.29 460.2) rotate(-90) scale(1 1.2)" text-anchor="end" font-size="6.2">GSA</text>
<text transform="translate(115.32 460.2) rotate(-90) scale(1 1.2)" text-anchor="end" font-size="6.2">PSO</text>
<text transform="translate(123.34 460.2) rotate(-90) scale(1 1.2)" text-anchor="end" font-size="6.2">GA</text>
<text transform="translate(72.35 484.6) scale(1 1.2)" text-anchor="middle" font-size="7.05">algorithm</text>
<text transform="translate(72.35 372.5) scale(1 1.04)" text-anchor="middle" font-size="7.1" font-weight="bold" style="fill:#000;stroke:#000">C17-F14</text>
<text transform="translate(6.95 416.35) rotate(-90) scale(1 1.2)" text-anchor="middle" font-size="7.05">objective function</text>
<rect x="163.1" y="374.4" width="101.7" height="83.9" fill="#fff" stroke="#5a5a5a" stroke-width="0.7"/>
<path d="M163.1 448.18h1.1M264.8 448.18h-1.1M163.1 436.7h1.1M264.8 436.7h-1.1M163.1 425.22h1.1M264.8 425.22h-1.1M163.1 413.74h1.1M264.8 413.74h-1.1M163.1 402.26h1.1M264.8 402.26h-1.1M163.1 390.78h1.1M264.8 390.78h-1.1M163.1 379.3h1.1M264.8 379.3h-1.1M167.01 458.3v-1.1M167.01 374.4v1.1M174.83 458.3v-1.1M174.83 374.4v1.1M182.66 458.3v-1.1M182.66 374.4v1.1M190.48 458.3v-1.1M190.48 374.4v1.1M198.3 458.3v-1.1M198.3 374.4v1.1M206.13 458.3v-1.1M206.13 374.4v1.1M213.95 458.3v-1.1M213.95 374.4v1.1M221.77 458.3v-1.1M221.77 374.4v1.1M229.6 458.3v-1.1M229.6 374.4v1.1M237.42 458.3v-1.1M237.42 374.4v1.1M245.24 458.3v-1.1M245.24 374.4v1.1M253.07 458.3v-1.1M253.07 374.4v1.1M260.89 458.3v-1.1M260.89 374.4v1.1" stroke="#2a2a2a" stroke-width="0.7" fill="none"/>
<path d="M164.96 458.2h4.1" stroke="#d00a40" stroke-width="1.2"/>
<rect x="172.98" y="377.6" width="3.7" height="1.6" rx="0.5" fill="#7a0a90"/>
<rect x="180.81" y="437.5" width="3.7" height="1.8" rx="0.4" fill="none" stroke="#00f" stroke-width="0.8"/><path d="M180.81 438.4h3.7" stroke="#f00" stroke-width="0.7"/>
<path d="M190.48 377.6V378.4" stroke="#000" stroke-width="0.85" stroke-dasharray="2 1.8"/><path d="M189.48 378.4h2" stroke="#000" stroke-width="0.6"/><rect x="188.63" y="375" width="3.7" height="2.6" rx="0.4" fill="none" stroke="#00f" stroke-width="0.8"/><path d="M188.63 376.4h3.7" stroke="#f00" stroke-width="0.7"/>
<path d="M198.3 437.6V439" stroke="#000" stroke-width="0.85" stroke-dasharray="2 1.8"/><path d="M197.3 437.6h2" stroke="#000" stroke-width="0.6"/><rect x="196.45" y="439" width="3.7" height="4" rx="0.4" fill="none" stroke="#00f" stroke-width="0.8"/><path d="M196.45 441h3.7" stroke="#f00" stroke-width="0.7"/><path d="M197.5 447h1.6M198.3 446.2v1.6" stroke="#222" stroke-width="0.6"/>
<path d="M206.13 374.8V376" stroke="#000" stroke-width="0.85" stroke-dasharray="2 1.8"/><path d="M205.13 374.8h2" stroke="#000" stroke-width="0.6"/><path d="M206.13 384.4V399" stroke="#000" stroke-width="0.85" stroke-dasharray="2 1.8"/><path d="M205.13 399h2" stroke="#000" stroke-width="0.6"/><rect x="204.28" y="376" width="3.7" height="8.4" rx="0.4" fill="none" stroke="#00f" stroke-width="0.8"/><path d="M204.28 379h3.7" stroke="#f00" stroke-width="0.7"/>
<path d="M213.95 402V403.6" stroke="#000" stroke-width="0.85" stroke-dasharray="2 1.8"/><path d="M212.95 402h2" stroke="#000" stroke-width="0.6"/><path d="M213.95 407.6V408.4" stroke="#000" stroke-width="0.85" stroke-dasharray="2 1.8"/><path d="M212.95 408.4h2" stroke="#000" stroke-width="0.6"/><rect x="212.1" y="403.6" width="3.7" height="4" rx="0.4" fill="none" stroke="#00f" stroke-width="0.8"/><path d="M212.1 405.6h3.7" stroke="#f00" stroke-width="0.7"/>
<rect x="219.92" y="435.4" width="3.7" height="3" rx="0.4" fill="none" stroke="#00f" stroke-width="0.8"/><path d="M219.92 436.8h3.7" stroke="#f00" stroke-width="0.7"/>
<path d="M229.6 392V392.4" stroke="#000" stroke-width="0.85" stroke-dasharray="2 1.8"/><path d="M228.6 392h2" stroke="#000" stroke-width="0.6"/><rect x="227.75" y="392.4" width="3.7" height="12" rx="0.4" fill="none" stroke="#00f" stroke-width="0.8"/><path d="M227.75 398.6h3.7" stroke="#f00" stroke-width="0.7"/><path d="M228.8 408.4h1.6M229.6 407.6v1.6" stroke="#222" stroke-width="0.6"/>
<path d="M237.42 387V389" stroke="#000" stroke-width="0.85" stroke-dasharray="2 1.8"/><path d="M236.42 387h2" stroke="#000" stroke-width="0.6"/><path d="M237.42 394.4V396.4" stroke="#000" stroke-width="0.85" stroke-dasharray="2 1.8"/><path d="M236.42 396.4h2" stroke="#000" stroke-width="0.6"/><rect x="235.57" y="389" width="3.7" height="5.4" rx="0.4" fill="none" stroke="#00f" stroke-width="0.8"/><path d="M235.57 392h3.7" stroke="#f00" stroke-width="0.7"/>
<rect x="243.39" y="389.6" width="3.7" height="2.8" rx="0.4" fill="none" stroke="#00f" stroke-width="0.8"/><path d="M243.39 390.6h3.7" stroke="#f00" stroke-width="0.7"/><path d="M244.44 395.4h1.6M245.24 394.6v1.6" stroke="#222" stroke-width="0.6"/>
<path d="M253.07 390.4V394" stroke="#000" stroke-width="0.85" stroke-dasharray="2 1.8"/><path d="M252.07 390.4h2" stroke="#000" stroke-width="0.6"/><path d="M253.07 419.4V440" stroke="#000" stroke-width="0.85" stroke-dasharray="2 1.8"/><path d="M252.07 440h2" stroke="#000" stroke-width="0.6"/><rect x="251.22" y="394" width="3.7" height="25.4" rx="0.4" fill="none" stroke="#00f" stroke-width="0.8"/><path d="M251.22 415.4h3.7" stroke="#f00" stroke-width="0.7"/>
<path d="M260.89 410.6V412" stroke="#000" stroke-width="0.85" stroke-dasharray="2 1.8"/><path d="M259.89 410.6h2" stroke="#000" stroke-width="0.6"/><rect x="259.04" y="412" width="3.7" height="3.6" rx="0.4" fill="none" stroke="#00f" stroke-width="0.8"/><path d="M259.04 413.6h3.7" stroke="#f00" stroke-width="0.7"/>
<text transform="translate(161.8 382.8) scale(1 1.2)" text-anchor="end" font-size="6.2">10<tspan font-size="4.6" dy="-3.0">10</tspan></text>
<text transform="translate(161.8 440.2) scale(1 1.2)" text-anchor="end" font-size="6.2">10<tspan font-size="4.6" dy="-3.0">5</tspan></text>
<text transform="translate(169.86 460.2) rotate(-90) scale(1 1.2)" text-anchor="end" font-size="6.2">LOA</text>
<text transform="translate(177.68 460.2) rotate(-90) scale(1 1.2)" text-anchor="end" font-size="6.2">WSO</text>
<text transform="translate(185.51 460.2) rotate(-90) scale(1 1.2)" text-anchor="end" font-size="6.2">AVOA</text>
<text transform="translate(193.33 460.2) rotate(-90) scale(1 1.2)" text-anchor="end" font-size="6.2">RSA</text>
<text transform="translate(201.15 460.2) rotate(-90) scale(1 1.2)" text-anchor="end" font-size="6.2">MPA</text>
<text transform="translate(208.98 460.2) rotate(-90) scale(1 1.2)" text-anchor="end" font-size="6.2">TSA</text>
<text transform="translate(216.8 460.2) rotate(-90) scale(1 1.2)" text-anchor="end" font-size="6.2">WOA</text>
<text transform="translate(224.62 460.2) rotate(-90) scale(1 1.2)" text-anchor="end" font-size="6.2">MVO</text>
<text transform="translate(232.45 460.2) rotate(-90) scale(1 1.2)" text-anchor="end" font-size="6.2">GWO</text>
<text transform="translate(240.27 460.2) rotate(-90) scale(1 1.2)" text-anchor="end" font-size="6.2">TLBO</text>
<text transform="translate(248.09 460.2) rotate(-90) scale(1 1.2)" text-anchor="end" font-size="6.2">GSA</text>
<text transform="translate(255.92 460.2) rotate(-90) scale(1 1.2)" text-anchor="end" font-size="6.2">PSO</text>
<text transform="translate(263.74 460.2) rotate(-90) scale(1 1.2)" text-anchor="end" font-size="6.2">GA</text>
<text transform="translate(213.95 484.6) scale(1 1.2)" text-anchor="middle" font-size="7.05">algorithm</text>
<text transform="translate(213.95 372.5) scale(1 1.04)" text-anchor="middle" font-size="7.1" font-weight="bold" style="fill:#000;stroke:#000">C17-F15</text>
<text transform="translate(148.25 416.35) rotate(-90) scale(1 1.2)" text-anchor="middle" font-size="7.05">objective function</text>
<rect x="301.1" y="374.4" width="104.4" height="83.9" fill="#fff" stroke="#5a5a5a" stroke-width="0.7"/>
<path d="M301.1 455h1.1M405.5 455h-1.1M301.1 398.3h1.1M405.5 398.3h-1.1M301.1 457.59h0.7M405.5 457.59h-0.7M301.1 437.93h0.7M405.5 437.93h-0.7M301.1 427.95h0.7M405.5 427.95h-0.7M301.1 420.86h0.7M405.5 420.86h-0.7M301.1 415.37h0.7M405.5 415.37h-0.7M301.1 410.88h0.7M405.5 410.88h-0.7M301.1 407.08h0.7M405.5 407.08h-0.7M301.1 403.79h0.7M405.5 403.79h-0.7M301.1 400.89h0.7M405.5 400.89h-0.7M301.1 381.23h0.7M405.5 381.23h-0.7M305.12 458.3v-1.1M305.12 374.4v1.1M313.15 458.3v-1.1M313.15 374.4v1.1M321.18 458.3v-1.1M321.18 374.4v1.1M329.21 458.3v-1.1M329.21 374.4v1.1M337.24 458.3v-1.1M337.24 374.4v1.1M345.27 458.3v-1.1M345.27 374.4v1.1M353.3 458.3v-1.1M353.3 374.4v1.1M361.33 458.3v-1.1M361.33 374.4v1.1M369.36 458.3v-1.1M369.36 374.4v1.1M377.39 458.3v-1.1M377.39 374.4v1.1M385.42 458.3v-1.1M385.42 374.4v1.1M393.45 458.3v-1.1M393.45 374.4v1.1M401.48 458.3v-1.1M401.48 374.4v1.1" stroke="#2a2a2a" stroke-width="0.7" fill="none"/>
<path d="M305.12 426V429" stroke="#000" stroke-width="0.85" stroke-dasharray="2 1.8"/><path d="M304.12 426h2" stroke="#000" stroke-width="0.6"/><path d="M305.12 434.6V437" stroke="#000" stroke-width="0.85" stroke-dasharray="2 1.8"/><path d="M304.12 437h2" stroke="#000" stroke-width="0.6"/><rect x="303.27" y="429" width="3.7" height="5.6" rx="0.4" fill="none" stroke="#00f" stroke-width="0.8"/><path d="M303.27 432h3.7" stroke="#f00" stroke-width="0.7"/>
<rect x="311.3" y="384" width="3.7" height="1.4" rx="0.4" fill="none" stroke="#00f" stroke-width="0.8"/><path d="M311.3 384.6h3.7" stroke="#f00" stroke-width="0.7"/>
<path d="M321.18 405.6V406.6" stroke="#000" stroke-width="0.85" stroke-dasharray="2 1.8"/><path d="M320.18 405.6h2" stroke="#000" stroke-width="0.6"/><path d="M321.18 410.4V413" stroke="#000" stroke-width="0.85" stroke-dasharray="2 1.8"/><path d="M320.18 413h2" stroke="#000" stroke-width="0.6"/><rect x="319.33" y="406.6" width="3.7" height="3.8" rx="0.4" fill="none" stroke="#00f" stroke-width="0.8"/><path d="M319.33 408.4h3.7" stroke="#f00" stroke-width="0.7"/>
<path d="M329.21 376.6V378" stroke="#000" stroke-width="0.85" stroke-dasharray="2 1.8"/><path d="M328.21 376.6h2" stroke="#000" stroke-width="0.6"/><path d="M329.21 383V386" stroke="#000" stroke-width="0.85" stroke-dasharray="2 1.8"/><path d="M328.21 386h2" stroke="#000" stroke-width="0.6"/><rect x="327.36" y="378" width="3.7" height="5" rx="0.4" fill="none" stroke="#00f" stroke-width="0.8"/><path d="M327.36 381h3.7" stroke="#f00" stroke-width="0.7"/>
<rect x="335.39" y="413.8" width="3.7" height="1.6" rx="0.5" fill="#7a0a90"/>
<path d="M345.27 386.4V389" stroke="#000" stroke-width="0.85" stroke-dasharray="2 1.8"/><path d="M344.27 386.4h2" stroke="#000" stroke-width="0.6"/><path d="M345.27 393.6V396" stroke="#000" stroke-width="0.85" stroke-dasharray="2 1.8"/><path d="M344.27 396h2" stroke="#000" stroke-width="0.6"/><rect x="343.42" y="389" width="3.7" height="4.6" rx="0.4" fill="none" stroke="#00f" stroke-width="0.8"/><path d="M343.42 391.4h3.7" stroke="#f00" stroke-width="0.7"/>
<path d="M353.3 384.6V386.4" stroke="#000" stroke-width="0.85" stroke-dasharray="2 1.8"/><path d="M352.3 384.6h2" stroke="#000" stroke-width="0.6"/><path d="M353.3 391V393" stroke="#000" stroke-width="0.85" stroke-dasharray="2 1.8"/><path d="M352.3 393h2" stroke="#000" stroke-width="0.6"/><rect x="351.45" y="386.4" width="3.7" height="4.6" rx="0.4" fill="none" stroke="#00f" stroke-width="0.8"/><path d="M351.45 388.4h3.7" stroke="#f00" stroke-width="0.7"/>
<path d="M361.33 412V413" stroke="#000" stroke-width="0.85" stroke-dasharray="2 1.8"/><path d="M360.33 413h2" stroke="#000" stroke-width="0.6"/><rect x="359.48" y="409" width="3.7" height="3" rx="0.4" fill="none" stroke="#00f" stroke-width="0.8"/><path d="M359.48 410.6h3.7" stroke="#f00" stroke-width="0.7"/>
<rect x="367.51" y="410" width="3.7" height="4.6" rx="0.4" fill="none" stroke="#00f" stroke-width="0.8"/><path d="M367.51 412h3.7" stroke="#f00" stroke-width="0.7"/>
<path d="M377.39 394.6V395.6" stroke="#000" stroke-width="0.85" stroke-dasharray="2 1.8"/><path d="M376.39 394.6h2" stroke="#000" stroke-width="0.6"/><rect x="375.54" y="395.6" width="3.7" height="2.8" rx="0.4" fill="none" stroke="#00f" stroke-width="0.8"/><path d="M375.54 397h3.7" stroke="#f00" stroke-width="0.7"/>
<path d="M385.42 394V395.6" stroke="#000" stroke-width="0.85" stroke-dasharray="2 1.8"/><path d="M384.42 394h2" stroke="#000" stroke-width="0.6"/><path d="M385.42 400.6V401.6" stroke="#000" stroke-width="0.85" stroke-dasharray="2 1.8"/><path d="M384.42 401.6h2" stroke="#000" stroke-width="0.6"/><rect x="383.57" y="395.6" width="3.7" height="5" rx="0.4" fill="none" stroke="#00f" stroke-width="0.8"/><path d="M383.57 397.6h3.7" stroke="#f00" stroke-width="0.7"/>
<rect x="391.6" y="409.8" width="3.7" height="1.6" rx="0.5" fill="#7a0a90"/>
<rect x="399.63" y="397.6" width="3.7" height="3" rx="0.4" fill="none" stroke="#00f" stroke-width="0.8"/><path d="M399.63 399h3.7" stroke="#f00" stroke-width="0.7"/>
<text transform="translate(299.8 401.8) scale(1 1.2)" text-anchor="end" font-size="6.2">10<tspan font-size="4.6" dy="-3.0">4</tspan></text>
<text transform="translate(299.8 458.5) scale(1 1.2)" text-anchor="end" font-size="6.2">10<tspan font-size="4.6" dy="-3.0">3</tspan></text>
<text transform="translate(307.97 460.2) rotate(-90) scale(1 1.2)" text-anchor="end" font-size="6.2">LOA</text>
<text transform="translate(316 460.2) rotate(-90) scale(1 1.2)" text-anchor="end" font-size="6.2">WSO</text>
<text transform="translate(324.03 460.2) rotate(-90) scale(1 1.2)" text-anchor="end" font-size="6.2">AVOA</text>
<text transform="translate(332.06 460.2) rotate(-90) scale(1 1.2)" text-anchor="end" font-size="6.2">RSA</text>
<text transform="translate(340.09 460.2) rotate(-90) scale(1 1.2)" text-anchor="end" font-size="6.2">MPA</text>
<text transform="translate(348.12 460.2) rotate(-90) scale(1 1.2)" text-anchor="end" font-size="6.2">TSA</text>
<text transform="translate(356.15 460.2) rotate(-90) scale(1 1.2)" text-anchor="end" font-size="6.2">WOA</text>
<text transform="translate(364.18 460.2) rotate(-90) scale(1 1.2)" text-anchor="end" font-size="6.2">MVO</text>
<text transform="translate(372.21 460.2) rotate(-90) scale(1 1.2)" text-anchor="end" font-size="6.2">GWO</text>
<text transform="translate(380.24 460.2) rotate(-90) scale(1 1.2)" text-anchor="end" font-size="6.2">TLBO</text>
<text transform="translate(388.27 460.2) rotate(-90) scale(1 1.2)" text-anchor="end" font-size="6.2">GSA</text>
<text transform="translate(396.3 460.2) rotate(-90) scale(1 1.2)" text-anchor="end" font-size="6.2">PSO</text>
<text transform="translate(404.33 460.2) rotate(-90) scale(1 1.2)" text-anchor="end" font-size="6.2">GA</text>
<text transform="translate(353.3 484.6) scale(1 1.2)" text-anchor="middle" font-size="7.05">algorithm</text>
<text transform="translate(353.3 372.5) scale(1 1.04)" text-anchor="middle" font-size="7.1" font-weight="bold" style="fill:#000;stroke:#000">C17-F16</text>
<text transform="translate(289.05 416.35) rotate(-90) scale(1 1.2)" text-anchor="middle" font-size="7.05">objective function</text>
<rect x="441.7" y="374.4" width="104.3" height="83.9" fill="#fff" stroke="#5a5a5a" stroke-width="0.7"/>
<path d="M441.7 445.1h1.1M546 445.1h-1.1M441.7 423.45h1.1M546 423.45h-1.1M441.7 401.8h1.1M546 401.8h-1.1M441.7 380.15h1.1M546 380.15h-1.1M441.7 456.42h0.7M546 456.42h-0.7M441.7 453.72h0.7M546 453.72h-0.7M441.7 451.62h0.7M546 451.62h-0.7M441.7 449.9h0.7M546 449.9h-0.7M441.7 448.45h0.7M546 448.45h-0.7M441.7 447.2h0.7M546 447.2h-0.7M441.7 446.09h0.7M546 446.09h-0.7M441.7 438.58h0.7M546 438.58h-0.7M441.7 434.77h0.7M546 434.77h-0.7M441.7 432.07h0.7M546 432.07h-0.7M441.7 429.97h0.7M546 429.97h-0.7M441.7 428.25h0.7M546 428.25h-0.7M441.7 426.8h0.7M546 426.8h-0.7M441.7 425.55h0.7M546 425.55h-0.7M441.7 424.44h0.7M546 424.44h-0.7M441.7 416.93h0.7M546 416.93h-0.7M441.7 413.12h0.7M546 413.12h-0.7M441.7 410.42h0.7M546 410.42h-0.7M441.7 408.32h0.7M546 408.32h-0.7M441.7 406.6h0.7M546 406.6h-0.7M441.7 405.15h0.7M546 405.15h-0.7M441.7 403.9h0.7M546 403.9h-0.7M441.7 402.79h0.7M546 402.79h-0.7M441.7 395.28h0.7M546 395.28h-0.7M441.7 391.47h0.7M546 391.47h-0.7M441.7 388.77h0.7M546 388.77h-0.7M441.7 386.67h0.7M546 386.67h-0.7M441.7 384.95h0.7M546 384.95h-0.7M441.7 383.5h0.7M546 383.5h-0.7M441.7 382.25h0.7M546 382.25h-0.7M441.7 381.14h0.7M546 381.14h-0.7M445.71 458.3v-1.1M445.71 374.4v1.1M453.73 458.3v-1.1M453.73 374.4v1.1M461.76 458.3v-1.1M461.76 374.4v1.1M469.78 458.3v-1.1M469.78 374.4v1.1M477.8 458.3v-1.1M477.8 374.4v1.1M485.83 458.3v-1.1M485.83 374.4v1.1M493.85 458.3v-1.1M493.85 374.4v1.1M501.87 458.3v-1.1M501.87 374.4v1.1M509.9 458.3v-1.1M509.9 374.4v1.1M517.92 458.3v-1.1M517.92 374.4v1.1M525.94 458.3v-1.1M525.94 374.4v1.1M533.97 458.3v-1.1M533.97 374.4v1.1M541.99 458.3v-1.1M541.99 374.4v1.1" stroke="#2a2a2a" stroke-width="0.7" fill="none"/>
<rect x="443.86" y="455" width="3.7" height="3.4" rx="0.4" fill="none" stroke="#00f" stroke-width="0.8"/><path d="M443.86 457h3.7" stroke="#f00" stroke-width="0.7"/>
<path d="M453.73 381V384" stroke="#000" stroke-width="0.85" stroke-dasharray="2 1.8"/><path d="M452.73 381h2" stroke="#000" stroke-width="0.6"/><rect x="451.88" y="384" width="3.7" height="16" rx="0.4" fill="none" stroke="#00f" stroke-width="0.8"/><path d="M451.88 392h3.7" stroke="#f00" stroke-width="0.7"/>
<rect x="459.91" y="449.2" width="3.7" height="1.6" rx="0.5" fill="#7a0a90"/>
<path d="M469.78 375V377.4" stroke="#000" stroke-width="0.85" stroke-dasharray="2 1.8"/><path d="M468.78 375h2" stroke="#000" stroke-width="0.6"/><rect x="467.93" y="377.4" width="3.7" height="17" rx="0.4" fill="none" stroke="#00f" stroke-width="0.8"/><path d="M467.93 385.6h3.7" stroke="#f00" stroke-width="0.7"/>
<rect x="475.95" y="451.2" width="3.7" height="1.6" rx="0.5" fill="#7a0a90"/>
<path d="M485.83 407.4V411.6" stroke="#000" stroke-width="0.85" stroke-dasharray="2 1.8"/><path d="M484.83 407.4h2" stroke="#000" stroke-width="0.6"/><path d="M485.83 426.4V445" stroke="#000" stroke-width="0.85" stroke-dasharray="2 1.8"/><path d="M484.83 445h2" stroke="#000" stroke-width="0.6"/><rect x="483.98" y="411.6" width="3.7" height="14.8" rx="0.4" fill="none" stroke="#00f" stroke-width="0.8"/><path d="M483.98 420.4h3.7" stroke="#f00" stroke-width="0.7"/>
<path d="M493.85 435.6V437.6" stroke="#000" stroke-width="0.85" stroke-dasharray="2 1.8"/><path d="M492.85 435.6h2" stroke="#000" stroke-width="0.6"/><rect x="492" y="437.6" width="3.7" height="6.8" rx="0.4" fill="none" stroke="#00f" stroke-width="0.8"/><path d="M492 441.6h3.7" stroke="#f00" stroke-width="0.7"/>
<rect x="500.02" y="450.6" width="3.7" height="1.6" rx="0.5" fill="#7a0a90"/>
<rect x="508.05" y="449" width="3.7" height="3" rx="0.4" fill="none" stroke="#00f" stroke-width="0.8"/><path d="M508.05 450.4h3.7" stroke="#f00" stroke-width="0.7"/>
<path d="M515.87 446.4h4.1" stroke="#d00a40" stroke-width="1.2"/>
<path d="M525.94 426V429" stroke="#000" stroke-width="0.85" stroke-dasharray="2 1.8"/><path d="M524.94 426h2" stroke="#000" stroke-width="0.6"/><rect x="524.09" y="429" width="3.7" height="5" rx="0.4" fill="none" stroke="#00f" stroke-width="0.8"/><path d="M524.09 431.6h3.7" stroke="#f00" stroke-width="0.7"/>
<rect x="532.12" y="448.8" width="3.7" height="1.6" rx="0.5" fill="#7a0a90"/>
<rect x="540.14" y="447.2" width="3.7" height="1.6" rx="0.5" fill="#7a0a90"/>
<text transform="translate(440.4 405.3) scale(1 1.2)" text-anchor="end" font-size="6.2">10<tspan font-size="4.6" dy="-3.0">6</tspan></text>
<text transform="translate(440.4 448.6) scale(1 1.2)" text-anchor="end" font-size="6.2">10<tspan font-size="4.6" dy="-3.0">4</tspan></text>
<text transform="translate(448.56 460.2) rotate(-90) scale(1 1.2)" text-anchor="end" font-size="6.2">LOA</text>
<text transform="translate(456.58 460.2) rotate(-90) scale(1 1.2)" text-anchor="end" font-size="6.2">WSO</text>
<text transform="translate(464.61 460.2) rotate(-90) scale(1 1.2)" text-anchor="end" font-size="6.2">AVOA</text>
<text transform="translate(472.63 460.2) rotate(-90) scale(1 1.2)" text-anchor="end" font-size="6.2">RSA</text>
<text transform="translate(480.65 460.2) rotate(-90) scale(1 1.2)" text-anchor="end" font-size="6.2">MPA</text>
<text transform="translate(488.68 460.2) rotate(-90) scale(1 1.2)" text-anchor="end" font-size="6.2">TSA</text>
<text transform="translate(496.7 460.2) rotate(-90) scale(1 1.2)" text-anchor="end" font-size="6.2">WOA</text>
<text transform="translate(504.72 460.2) rotate(-90) scale(1 1.2)" text-anchor="end" font-size="6.2">MVO</text>
<text transform="translate(512.75 460.2) rotate(-90) scale(1 1.2)" text-anchor="end" font-size="6.2">GWO</text>
<text transform="translate(520.77 460.2) rotate(-90) scale(1 1.2)" text-anchor="end" font-size="6.2">TLBO</text>
<text transform="translate(528.79 460.2) rotate(-90) scale(1 1.2)" text-anchor="end" font-size="6.2">GSA</text>
<text transform="translate(536.82 460.2) rotate(-90) scale(1 1.2)" text-anchor="end" font-size="6.2">PSO</text>
<text transform="translate(544.84 460.2) rotate(-90) scale(1 1.2)" text-anchor="end" font-size="6.2">GA</text>
<text transform="translate(493.85 484.6) scale(1 1.2)" text-anchor="middle" font-size="7.05">algorithm</text>
<text transform="translate(493.85 372.5) scale(1 1.04)" text-anchor="middle" font-size="7.1" font-weight="bold" style="fill:#000;stroke:#000">C17-F17</text>
<text transform="translate(428.95 416.35) rotate(-90) scale(1 1.2)" text-anchor="middle" font-size="7.05">objective function</text>
<rect x="20.2" y="496.2" width="104.3" height="84" fill="#fff" stroke="#5a5a5a" stroke-width="0.7"/>
<path d="M20.2 568.3h1.1M124.5 568.3h-1.1M20.2 551.35h1.1M124.5 551.35h-1.1M20.2 534.4h1.1M124.5 534.4h-1.1M20.2 517.45h1.1M124.5 517.45h-1.1M20.2 500.5h1.1M124.5 500.5h-1.1M20.2 580.15h0.7M124.5 580.15h-0.7M20.2 577.16h0.7M124.5 577.16h-0.7M20.2 575.05h0.7M124.5 575.05h-0.7M20.2 573.4h0.7M124.5 573.4h-0.7M20.2 572.06h0.7M124.5 572.06h-0.7M20.2 570.93h0.7M124.5 570.93h-0.7M20.2 569.94h0.7M124.5 569.94h-0.7M20.2 569.08h0.7M124.5 569.08h-0.7M20.2 563.2h0.7M124.5 563.2h-0.7M20.2 560.21h0.7M124.5 560.21h-0.7M20.2 558.1h0.7M124.5 558.1h-0.7M20.2 556.45h0.7M124.5 556.45h-0.7M20.2 555.11h0.7M124.5 555.11h-0.7M20.2 553.98h0.7M124.5 553.98h-0.7M20.2 552.99h0.7M124.5 552.99h-0.7M20.2 552.13h0.7M124.5 552.13h-0.7M20.2 546.25h0.7M124.5 546.25h-0.7M20.2 543.26h0.7M124.5 543.26h-0.7M20.2 541.15h0.7M124.5 541.15h-0.7M20.2 539.5h0.7M124.5 539.5h-0.7M20.2 538.16h0.7M124.5 538.16h-0.7M20.2 537.03h0.7M124.5 537.03h-0.7M20.2 536.04h0.7M124.5 536.04h-0.7M20.2 535.18h0.7M124.5 535.18h-0.7M20.2 529.3h0.7M124.5 529.3h-0.7M20.2 526.31h0.7M124.5 526.31h-0.7M20.2 524.2h0.7M124.5 524.2h-0.7M20.2 522.55h0.7M124.5 522.55h-0.7M20.2 521.21h0.7M124.5 521.21h-0.7M20.2 520.08h0.7M124.5 520.08h-0.7M20.2 519.09h0.7M124.5 519.09h-0.7M20.2 518.23h0.7M124.5 518.23h-0.7M20.2 512.35h0.7M124.5 512.35h-0.7M20.2 509.36h0.7M124.5 509.36h-0.7M20.2 507.25h0.7M124.5 507.25h-0.7M20.2 505.6h0.7M124.5 505.6h-0.7M20.2 504.26h0.7M124.5 504.26h-0.7M20.2 503.13h0.7M124.5 503.13h-0.7M20.2 502.14h0.7M124.5 502.14h-0.7M20.2 501.28h0.7M124.5 501.28h-0.7M24.21 580.2v-1.1M24.21 496.2v1.1M32.23 580.2v-1.1M32.23 496.2v1.1M40.26 580.2v-1.1M40.26 496.2v1.1M48.28 580.2v-1.1M48.28 496.2v1.1M56.3 580.2v-1.1M56.3 496.2v1.1M64.33 580.2v-1.1M64.33 496.2v1.1M72.35 580.2v-1.1M72.35 496.2v1.1M80.37 580.2v-1.1M80.37 496.2v1.1M88.4 580.2v-1.1M88.4 496.2v1.1M96.42 580.2v-1.1M96.42 496.2v1.1M104.44 580.2v-1.1M104.44 496.2v1.1M112.47 580.2v-1.1M112.47 496.2v1.1M120.49 580.2v-1.1M120.49 496.2v1.1" stroke="#2a2a2a" stroke-width="0.7" fill="none"/>
<path d="M22.16 580.2h4.1" stroke="#d00a40" stroke-width="1.2"/>
<path d="M32.23 500.6V502" stroke="#000" stroke-width="0.85" stroke-dasharray="2 1.8"/><path d="M31.23 500.6h2" stroke="#000" stroke-width="0.6"/><path d="M32.23 509V511" stroke="#000" stroke-width="0.85" stroke-dasharray="2 1.8"/><path d="M31.23 511h2" stroke="#000" stroke-width="0.6"/><rect x="30.38" y="502" width="3.7" height="7" rx="0.4" fill="none" stroke="#00f" stroke-width="0.8"/><path d="M30.38 506h3.7" stroke="#f00" stroke-width="0.7"/>
<path d="M40.26 523V524.4" stroke="#000" stroke-width="0.85" stroke-dasharray="2 1.8"/><path d="M39.26 523h2" stroke="#000" stroke-width="0.6"/><path d="M40.26 531.6V532.6" stroke="#000" stroke-width="0.85" stroke-dasharray="2 1.8"/><path d="M39.26 532.6h2" stroke="#000" stroke-width="0.6"/><rect x="38.41" y="524.4" width="3.7" height="7.2" rx="0.4" fill="none" stroke="#00f" stroke-width="0.8"/><path d="M38.41 528h3.7" stroke="#f00" stroke-width="0.7"/>
<path d="M48.28 497.4V498" stroke="#000" stroke-width="0.85" stroke-dasharray="2 1.8"/><path d="M47.28 497.4h2" stroke="#000" stroke-width="0.6"/><path d="M48.28 505V508" stroke="#000" stroke-width="0.85" stroke-dasharray="2 1.8"/><path d="M47.28 508h2" stroke="#000" stroke-width="0.6"/><rect x="46.43" y="498" width="3.7" height="7" rx="0.4" fill="none" stroke="#00f" stroke-width="0.8"/><path d="M46.43 501.4h3.7" stroke="#f00" stroke-width="0.7"/>
<path d="M56.3 541.4V543" stroke="#000" stroke-width="0.85" stroke-dasharray="2 1.8"/><path d="M55.3 541.4h2" stroke="#000" stroke-width="0.6"/><rect x="54.45" y="543" width="3.7" height="5" rx="0.4" fill="none" stroke="#00f" stroke-width="0.8"/><path d="M54.45 547h3.7" stroke="#f00" stroke-width="0.7"/>
<path d="M64.33 511V512.4" stroke="#000" stroke-width="0.85" stroke-dasharray="2 1.8"/><path d="M63.33 511h2" stroke="#000" stroke-width="0.6"/><path d="M64.33 521.6V523" stroke="#000" stroke-width="0.85" stroke-dasharray="2 1.8"/><path d="M63.33 523h2" stroke="#000" stroke-width="0.6"/><rect x="62.48" y="512.4" width="3.7" height="9.2" rx="0.4" fill="none" stroke="#00f" stroke-width="0.8"/><path d="M62.48 517h3.7" stroke="#f00" stroke-width="0.7"/>
<rect x="70.5" y="515.4" width="3.7" height="2.6" rx="0.4" fill="none" stroke="#00f" stroke-width="0.8"/><path d="M70.5 516.6h3.7" stroke="#f00" stroke-width="0.7"/>
<path d="M80.37 519.4V521" stroke="#000" stroke-width="0.85" stroke-dasharray="2 1.8"/><path d="M79.37 519.4h2" stroke="#000" stroke-width="0.6"/><rect x="78.52" y="521" width="3.7" height="4" rx="0.4" fill="none" stroke="#00f" stroke-width="0.8"/><path d="M78.52 524h3.7" stroke="#f00" stroke-width="0.7"/>
<path d="M88.4 513.6V515" stroke="#000" stroke-width="0.85" stroke-dasharray="2 1.8"/><path d="M87.4 513.6h2" stroke="#000" stroke-width="0.6"/><rect x="86.55" y="515" width="3.7" height="5.6" rx="0.4" fill="none" stroke="#00f" stroke-width="0.8"/><path d="M86.55 517.4h3.7" stroke="#f00" stroke-width="0.7"/><path d="M87.6 525h1.6M88.4 524.2v1.6" stroke="#222" stroke-width="0.6"/>
<path d="M96.42 511.4V512.6" stroke="#000" stroke-width="0.85" stroke-dasharray="2 1.8"/><path d="M95.42 511.4h2" stroke="#000" stroke-width="0.6"/><rect x="94.57" y="512.6" width="3.7" height="3" rx="0.4" fill="none" stroke="#00f" stroke-width="0.8"/><path d="M94.57 514h3.7" stroke="#f00" stroke-width="0.7"/>
<path d="M104.44 511.6V513.6" stroke="#000" stroke-width="0.85" stroke-dasharray="2 1.8"/><path d="M103.44 511.6h2" stroke="#000" stroke-width="0.6"/><rect x="102.59" y="513.6" width="3.7" height="8.4" rx="0.4" fill="none" stroke="#00f" stroke-width="0.8"/><path d="M102.59 520h3.7" stroke="#f00" stroke-width="0.7"/>
<path d="M112.47 518.6V519.6" stroke="#000" stroke-width="0.85" stroke-dasharray="2 1.8"/><path d="M111.47 518.6h2" stroke="#000" stroke-width="0.6"/><rect x="110.62" y="519.6" width="3.7" height="4.4" rx="0.4" fill="none" stroke="#00f" stroke-width="0.8"/><path d="M110.62 521.6h3.7" stroke="#f00" stroke-width="0.7"/>
<path d="M120.49 519V520" stroke="#000" stroke-width="0.85" stroke-dasharray="2 1.8"/><path d="M119.49 519h2" stroke="#000" stroke-width="0.6"/><rect x="118.64" y="520" width="3.7" height="3" rx="0.4" fill="none" stroke="#00f" stroke-width="0.8"/><path d="M118.64 521.4h3.7" stroke="#f00" stroke-width="0.7"/>
<text transform="translate(18.9 504) scale(1 1.2)" text-anchor="end" font-size="6.2">10<tspan font-size="4.6" dy="-3.0">8</tspan></text>
<text transform="translate(18.9 537.9) scale(1 1.2)" text-anchor="end" font-size="6.2">10<tspan font-size="4.6" dy="-3.0">6</tspan></text>
<text transform="translate(18.9 571.8) scale(1 1.2)" text-anchor="end" font-size="6.2">10<tspan font-size="4.6" dy="-3.0">4</tspan></text>
<text transform="translate(27.06 582.1) rotate(-90) scale(1 1.2)" text-anchor="end" font-size="6.2">LOA</text>
<text transform="translate(35.08 582.1) rotate(-90) scale(1 1.2)" text-anchor="end" font-size="6.2">WSO</text>
<text transform="translate(43.11 582.1) rotate(-90) scale(1 1.2)" text-anchor="end" font-size="6.2">AVOA</text>
<text transform="translate(51.13 582.1) rotate(-90) scale(1 1.2)" text-anchor="end" font-size="6.2">RSA</text>
<text transform="translate(59.15 582.1) rotate(-90) scale(1 1.2)" text-anchor="end" font-size="6.2">MPA</text>
<text transform="translate(67.18 582.1) rotate(-90) scale(1 1.2)" text-anchor="end" font-size="6.2">TSA</text>
<text transform="translate(75.2 582.1) rotate(-90) scale(1 1.2)" text-anchor="end" font-size="6.2">WOA</text>
<text transform="translate(83.22 582.1) rotate(-90) scale(1 1.2)" text-anchor="end" font-size="6.2">MVO</text>
<text transform="translate(91.25 582.1) rotate(-90) scale(1 1.2)" text-anchor="end" font-size="6.2">GWO</text>
<text transform="translate(99.27 582.1) rotate(-90) scale(1 1.2)" text-anchor="end" font-size="6.2">TLBO</text>
<text transform="translate(107.29 582.1) rotate(-90) scale(1 1.2)" text-anchor="end" font-size="6.2">GSA</text>
<text transform="translate(115.32 582.1) rotate(-90) scale(1 1.2)" text-anchor="end" font-size="6.2">PSO</text>
<text transform="translate(123.34 582.1) rotate(-90) scale(1 1.2)" text-anchor="end" font-size="6.2">GA</text>
<text transform="translate(72.35 606.5) scale(1 1.2)" text-anchor="middle" font-size="7.05">algorithm</text>
<text transform="translate(72.35 494.3) scale(1 1.04)" text-anchor="middle" font-size="7.1" font-weight="bold" style="fill:#000;stroke:#000">C17-F18</text>
<text transform="translate(6.95 538.2) rotate(-90) scale(1 1.2)" text-anchor="middle" font-size="7.05">objective function</text>
<rect x="162.9" y="496.2" width="101.9" height="84" fill="#fff" stroke="#5a5a5a" stroke-width="0.7"/>
<path d="M162.9 571.92h1.1M264.8 571.92h-1.1M162.9 560.1h1.1M264.8 560.1h-1.1M162.9 548.28h1.1M264.8 548.28h-1.1M162.9 536.46h1.1M264.8 536.46h-1.1M162.9 524.64h1.1M264.8 524.64h-1.1M162.9 512.82h1.1M264.8 512.82h-1.1M162.9 501h1.1M264.8 501h-1.1M166.82 580.2v-1.1M166.82 496.2v1.1M174.66 580.2v-1.1M174.66 496.2v1.1M182.5 580.2v-1.1M182.5 496.2v1.1M190.33 580.2v-1.1M190.33 496.2v1.1M198.17 580.2v-1.1M198.17 496.2v1.1M206.01 580.2v-1.1M206.01 496.2v1.1M213.85 580.2v-1.1M213.85 496.2v1.1M221.69 580.2v-1.1M221.69 496.2v1.1M229.53 580.2v-1.1M229.53 496.2v1.1M237.37 580.2v-1.1M237.37 496.2v1.1M245.2 580.2v-1.1M245.2 496.2v1.1M253.04 580.2v-1.1M253.04 496.2v1.1M260.88 580.2v-1.1M260.88 496.2v1.1" stroke="#2a2a2a" stroke-width="0.7" fill="none"/>
<path d="M164.77 580.2h4.1" stroke="#d00a40" stroke-width="1.2"/>
<rect x="172.81" y="499.6" width="3.7" height="1.6" rx="0.5" fill="#7a0a90"/>
<path d="M182.5 540V541" stroke="#000" stroke-width="0.85" stroke-dasharray="2 1.8"/><path d="M181.5 540h2" stroke="#000" stroke-width="0.6"/><path d="M182.5 546.4V548.4" stroke="#000" stroke-width="0.85" stroke-dasharray="2 1.8"/><path d="M181.5 548.4h2" stroke="#000" stroke-width="0.6"/><rect x="180.65" y="541" width="3.7" height="5.4" rx="0.4" fill="none" stroke="#00f" stroke-width="0.8"/><path d="M180.65 544h3.7" stroke="#f00" stroke-width="0.7"/>
<rect x="188.48" y="496.6" width="3.7" height="1.8" rx="0.4" fill="none" stroke="#00f" stroke-width="0.8"/><path d="M188.48 497.4h3.7" stroke="#f00" stroke-width="0.7"/>
<path d="M198.17 552V553.4" stroke="#000" stroke-width="0.85" stroke-dasharray="2 1.8"/><path d="M197.17 552h2" stroke="#000" stroke-width="0.6"/><rect x="196.32" y="553.4" width="3.7" height="5" rx="0.4" fill="none" stroke="#00f" stroke-width="0.8"/><path d="M196.32 556h3.7" stroke="#f00" stroke-width="0.7"/><path d="M197.37 563h1.6M198.17 562.2v1.6" stroke="#222" stroke-width="0.6"/>
<path d="M206.01 501.4V503.4" stroke="#000" stroke-width="0.85" stroke-dasharray="2 1.8"/><path d="M205.01 501.4h2" stroke="#000" stroke-width="0.6"/><rect x="204.16" y="503.4" width="3.7" height="5.2" rx="0.4" fill="none" stroke="#00f" stroke-width="0.8"/><path d="M204.16 506.4h3.7" stroke="#f00" stroke-width="0.7"/>
<path d="M213.85 520V521.4" stroke="#000" stroke-width="0.85" stroke-dasharray="2 1.8"/><path d="M212.85 520h2" stroke="#000" stroke-width="0.6"/><rect x="212" y="521.4" width="3.7" height="6.2" rx="0.4" fill="none" stroke="#00f" stroke-width="0.8"/><path d="M212 524.4h3.7" stroke="#f00" stroke-width="0.7"/>
<rect x="219.84" y="532.4" width="3.7" height="4.6" rx="0.4" fill="none" stroke="#00f" stroke-width="0.8"/><path d="M219.84 535h3.7" stroke="#f00" stroke-width="0.7"/>
<path d="M229.53 513.4V515" stroke="#000" stroke-width="0.85" stroke-dasharray="2 1.8"/><path d="M228.53 513.4h2" stroke="#000" stroke-width="0.6"/><path d="M229.53 535.6V539" stroke="#000" stroke-width="0.85" stroke-dasharray="2 1.8"/><path d="M228.53 539h2" stroke="#000" stroke-width="0.6"/><rect x="227.68" y="515" width="3.7" height="20.6" rx="0.4" fill="none" stroke="#00f" stroke-width="0.8"/><path d="M227.68 522h3.7" stroke="#f00" stroke-width="0.7"/><path d="M228.73 542.6h1.6M229.53 541.8v1.6" stroke="#222" stroke-width="0.6"/>
<path d="M237.37 511.4V513.4" stroke="#000" stroke-width="0.85" stroke-dasharray="2 1.8"/><path d="M236.37 511.4h2" stroke="#000" stroke-width="0.6"/><rect x="235.52" y="513.4" width="3.7" height="6.2" rx="0.4" fill="none" stroke="#00f" stroke-width="0.8"/><path d="M235.52 517.6h3.7" stroke="#f00" stroke-width="0.7"/>
<path d="M245.2 517.6V519.6" stroke="#000" stroke-width="0.85" stroke-dasharray="2 1.8"/><path d="M244.2 519.6h2" stroke="#000" stroke-width="0.6"/><rect x="243.35" y="508.4" width="3.7" height="9.2" rx="0.4" fill="none" stroke="#00f" stroke-width="0.8"/><path d="M243.35 511h3.7" stroke="#f00" stroke-width="0.7"/>
<path d="M253.04 516V517" stroke="#000" stroke-width="0.85" stroke-dasharray="2 1.8"/><path d="M252.04 516h2" stroke="#000" stroke-width="0.6"/><rect x="251.19" y="517" width="3.7" height="12.4" rx="0.4" fill="none" stroke="#00f" stroke-width="0.8"/><path d="M251.19 520.6h3.7" stroke="#f00" stroke-width="0.7"/>
<path d="M260.88 532.4V534" stroke="#000" stroke-width="0.85" stroke-dasharray="2 1.8"/><path d="M259.88 532.4h2" stroke="#000" stroke-width="0.6"/><rect x="259.03" y="534" width="3.7" height="5" rx="0.4" fill="none" stroke="#00f" stroke-width="0.8"/><path d="M259.03 536h3.7" stroke="#f00" stroke-width="0.7"/>
<text transform="translate(161.6 504.5) scale(1 1.2)" text-anchor="end" font-size="6.2">10<tspan font-size="4.6" dy="-3.0">10</tspan></text>
<text transform="translate(161.6 563.6) scale(1 1.2)" text-anchor="end" font-size="6.2">10<tspan font-size="4.6" dy="-3.0">5</tspan></text>
<text transform="translate(169.67 582.1) rotate(-90) scale(1 1.2)" text-anchor="end" font-size="6.2">LOA</text>
<text transform="translate(177.51 582.1) rotate(-90) scale(1 1.2)" text-anchor="end" font-size="6.2">WSO</text>
<text transform="translate(185.35 582.1) rotate(-90) scale(1 1.2)" text-anchor="end" font-size="6.2">AVOA</text>
<text transform="translate(193.18 582.1) rotate(-90) scale(1 1.2)" text-anchor="end" font-size="6.2">RSA</text>
<text transform="translate(201.02 582.1) rotate(-90) scale(1 1.2)" text-anchor="end" font-size="6.2">MPA</text>
<text transform="translate(208.86 582.1) rotate(-90) scale(1 1.2)" text-anchor="end" font-size="6.2">TSA</text>
<text transform="translate(216.7 582.1) rotate(-90) scale(1 1.2)" text-anchor="end" font-size="6.2">WOA</text>
<text transform="translate(224.54 582.1) rotate(-90) scale(1 1.2)" text-anchor="end" font-size="6.2">MVO</text>
<text transform="translate(232.38 582.1) rotate(-90) scale(1 1.2)" text-anchor="end" font-size="6.2">GWO</text>
<text transform="translate(240.22 582.1) rotate(-90) scale(1 1.2)" text-anchor="end" font-size="6.2">TLBO</text>
<text transform="translate(248.05 582.1) rotate(-90) scale(1 1.2)" text-anchor="end" font-size="6.2">GSA</text>
<text transform="translate(255.89 582.1) rotate(-90) scale(1 1.2)" text-anchor="end" font-size="6.2">PSO</text>
<text transform="translate(263.73 582.1) rotate(-90) scale(1 1.2)" text-anchor="end" font-size="6.2">GA</text>
<text transform="translate(213.85 606.5) scale(1 1.2)" text-anchor="middle" font-size="7.05">algorithm</text>
<text transform="translate(213.85 494.3) scale(1 1.04)" text-anchor="middle" font-size="7.1" font-weight="bold" style="fill:#000;stroke:#000">C17-F19</text>
<text transform="translate(148.25 538.2) rotate(-90) scale(1 1.2)" text-anchor="middle" font-size="7.05">objective function</text>
<rect x="304.8" y="496.2" width="100.7" height="84" fill="#fff" stroke="#5a5a5a" stroke-width="0.7"/>
<path d="M304.8 504.5h1.1M405.5 504.5h-1.1M304.8 515.03h1.1M405.5 515.03h-1.1M304.8 527.49h1.1M405.5 527.49h-1.1M304.8 542.74h1.1M405.5 542.74h-1.1M304.8 562.4h1.1M405.5 562.4h-1.1M308.67 580.2v-1.1M308.67 496.2v1.1M316.42 580.2v-1.1M316.42 496.2v1.1M324.17 580.2v-1.1M324.17 496.2v1.1M331.91 580.2v-1.1M331.91 496.2v1.1M339.66 580.2v-1.1M339.66 496.2v1.1M347.4 580.2v-1.1M347.4 496.2v1.1M355.15 580.2v-1.1M355.15 496.2v1.1M362.9 580.2v-1.1M362.9 496.2v1.1M370.64 580.2v-1.1M370.64 496.2v1.1M378.39 580.2v-1.1M378.39 496.2v1.1M386.13 580.2v-1.1M386.13 496.2v1.1M393.88 580.2v-1.1M393.88 496.2v1.1M401.63 580.2v-1.1M401.63 496.2v1.1" stroke="#2a2a2a" stroke-width="0.7" fill="none"/>
<path d="M308.67 548V550" stroke="#000" stroke-width="0.85" stroke-dasharray="2 1.8"/><path d="M307.67 548h2" stroke="#000" stroke-width="0.6"/><rect x="306.82" y="550" width="3.7" height="17" rx="0.4" fill="none" stroke="#00f" stroke-width="0.8"/><path d="M306.82 559h3.7" stroke="#f00" stroke-width="0.7"/>
<rect x="314.57" y="502.6" width="3.7" height="3" rx="0.4" fill="none" stroke="#00f" stroke-width="0.8"/><path d="M314.57 504h3.7" stroke="#f00" stroke-width="0.7"/>
<path d="M324.17 518.4V519.4" stroke="#000" stroke-width="0.85" stroke-dasharray="2 1.8"/><path d="M323.17 519.4h2" stroke="#000" stroke-width="0.6"/><rect x="322.32" y="512.4" width="3.7" height="6" rx="0.4" fill="none" stroke="#00f" stroke-width="0.8"/><path d="M322.32 515h3.7" stroke="#f00" stroke-width="0.7"/>
<rect x="330.06" y="501.4" width="3.7" height="1.6" rx="0.4" fill="none" stroke="#00f" stroke-width="0.8"/><path d="M330.06 502.2h3.7" stroke="#f00" stroke-width="0.7"/>
<rect x="337.81" y="535.2" width="3.7" height="1.6" rx="0.5" fill="#7a0a90"/>
<path d="M347.4 500V502.6" stroke="#000" stroke-width="0.85" stroke-dasharray="2 1.8"/><path d="M346.4 500h2" stroke="#000" stroke-width="0.6"/><path d="M347.4 511.6V513.4" stroke="#000" stroke-width="0.85" stroke-dasharray="2 1.8"/><path d="M346.4 513.4h2" stroke="#000" stroke-width="0.6"/><rect x="345.55" y="502.6" width="3.7" height="9" rx="0.4" fill="none" stroke="#00f" stroke-width="0.8"/><path d="M345.55 507.6h3.7" stroke="#f00" stroke-width="0.7"/>
<path d="M355.15 509.6V511" stroke="#000" stroke-width="0.85" stroke-dasharray="2 1.8"/><path d="M354.15 511h2" stroke="#000" stroke-width="0.6"/><rect x="353.3" y="503.6" width="3.7" height="6" rx="0.4" fill="none" stroke="#00f" stroke-width="0.8"/><path d="M353.3 506.6h3.7" stroke="#f00" stroke-width="0.7"/>
<path d="M362.9 513.4V517" stroke="#000" stroke-width="0.85" stroke-dasharray="2 1.8"/><path d="M361.9 513.4h2" stroke="#000" stroke-width="0.6"/><path d="M362.9 522V523" stroke="#000" stroke-width="0.85" stroke-dasharray="2 1.8"/><path d="M361.9 523h2" stroke="#000" stroke-width="0.6"/><rect x="361.05" y="517" width="3.7" height="5" rx="0.4" fill="none" stroke="#00f" stroke-width="0.8"/><path d="M361.05 520.6h3.7" stroke="#f00" stroke-width="0.7"/>
<path d="M370.64 527V528.4" stroke="#000" stroke-width="0.85" stroke-dasharray="2 1.8"/><path d="M369.64 528.4h2" stroke="#000" stroke-width="0.6"/><rect x="368.79" y="507" width="3.7" height="20" rx="0.4" fill="none" stroke="#00f" stroke-width="0.8"/><path d="M368.79 514.6h3.7" stroke="#f00" stroke-width="0.7"/><path d="M369.84 530.6h1.6M370.64 529.8v1.6" stroke="#222" stroke-width="0.6"/>
<path d="M378.39 508V511" stroke="#000" stroke-width="0.85" stroke-dasharray="2 1.8"/><path d="M377.39 511h2" stroke="#000" stroke-width="0.6"/><rect x="376.54" y="502" width="3.7" height="6" rx="0.4" fill="none" stroke="#00f" stroke-width="0.8"/><path d="M376.54 502.6h3.7" stroke="#f00" stroke-width="0.7"/>
<path d="M386.13 510.6V511.6" stroke="#000" stroke-width="0.85" stroke-dasharray="2 1.8"/><path d="M385.13 510.6h2" stroke="#000" stroke-width="0.6"/><path d="M386.13 516.4V518" stroke="#000" stroke-width="0.85" stroke-dasharray="2 1.8"/><path d="M385.13 518h2" stroke="#000" stroke-width="0.6"/><rect x="384.28" y="511.6" width="3.7" height="4.8" rx="0.4" fill="none" stroke="#00f" stroke-width="0.8"/><path d="M384.28 514h3.7" stroke="#f00" stroke-width="0.7"/>
<path d="M393.88 514V518" stroke="#000" stroke-width="0.85" stroke-dasharray="2 1.8"/><path d="M392.88 514h2" stroke="#000" stroke-width="0.6"/><path d="M393.88 531.4V533.6" stroke="#000" stroke-width="0.85" stroke-dasharray="2 1.8"/><path d="M392.88 533.6h2" stroke="#000" stroke-width="0.6"/><rect x="392.03" y="518" width="3.7" height="13.4" rx="0.4" fill="none" stroke="#00f" stroke-width="0.8"/><path d="M392.03 525h3.7" stroke="#f00" stroke-width="0.7"/>
<path d="M401.63 519V521" stroke="#000" stroke-width="0.85" stroke-dasharray="2 1.8"/><path d="M400.63 521h2" stroke="#000" stroke-width="0.6"/><rect x="399.78" y="509.6" width="3.7" height="9.4" rx="0.4" fill="none" stroke="#00f" stroke-width="0.8"/><path d="M399.78 513h3.7" stroke="#f00" stroke-width="0.7"/>
<text transform="translate(303.5 507.7) scale(1 1.2)" text-anchor="end" font-size="6.2">7000</text>
<text transform="translate(303.5 518.23) scale(1 1.2)" text-anchor="end" font-size="6.2">6000</text>
<text transform="translate(303.5 530.69) scale(1 1.2)" text-anchor="end" font-size="6.2">5000</text>
<text transform="translate(303.5 545.94) scale(1 1.2)" text-anchor="end" font-size="6.2">4000</text>
<text transform="translate(303.5 565.6) scale(1 1.2)" text-anchor="end" font-size="6.2">3000</text>
<text transform="translate(311.52 582.1) rotate(-90) scale(1 1.2)" text-anchor="end" font-size="6.2">LOA</text>
<text transform="translate(319.27 582.1) rotate(-90) scale(1 1.2)" text-anchor="end" font-size="6.2">WSO</text>
<text transform="translate(327.02 582.1) rotate(-90) scale(1 1.2)" text-anchor="end" font-size="6.2">AVOA</text>
<text transform="translate(334.76 582.1) rotate(-90) scale(1 1.2)" text-anchor="end" font-size="6.2">RSA</text>
<text transform="translate(342.51 582.1) rotate(-90) scale(1 1.2)" text-anchor="end" font-size="6.2">MPA</text>
<text transform="translate(350.25 582.1) rotate(-90) scale(1 1.2)" text-anchor="end" font-size="6.2">TSA</text>
<text transform="translate(358 582.1) rotate(-90) scale(1 1.2)" text-anchor="end" font-size="6.2">WOA</text>
<text transform="translate(365.75 582.1) rotate(-90) scale(1 1.2)" text-anchor="end" font-size="6.2">MVO</text>
<text transform="translate(373.49 582.1) rotate(-90) scale(1 1.2)" text-anchor="end" font-size="6.2">GWO</text>
<text transform="translate(381.24 582.1) rotate(-90) scale(1 1.2)" text-anchor="end" font-size="6.2">TLBO</text>
<text transform="translate(388.98 582.1) rotate(-90) scale(1 1.2)" text-anchor="end" font-size="6.2">GSA</text>
<text transform="translate(396.73 582.1) rotate(-90) scale(1 1.2)" text-anchor="end" font-size="6.2">PSO</text>
<text transform="translate(404.48 582.1) rotate(-90) scale(1 1.2)" text-anchor="end" font-size="6.2">GA</text>
<text transform="translate(355.15 606.5) scale(1 1.2)" text-anchor="middle" font-size="7.05">algorithm</text>
<text transform="translate(355.15 494.3) scale(1 1.04)" text-anchor="middle" font-size="7.1" font-weight="bold" style="fill:#000;stroke:#000">C17-F20</text>
<text transform="translate(287.85 538.2) rotate(-90) scale(1 1.2)" text-anchor="middle" font-size="7.05">objective function</text>
<rect x="445.4" y="496.2" width="100.6" height="84" fill="#fff" stroke="#5a5a5a" stroke-width="0.7"/>
<path d="M445.4 499.3h1.1M546 499.3h-1.1M445.4 509.73h1.1M546 509.73h-1.1M445.4 521.38h1.1M546 521.38h-1.1M445.4 534.6h1.1M546 534.6h-1.1M445.4 549.86h1.1M546 549.86h-1.1M445.4 567.9h1.1M546 567.9h-1.1M449.27 580.2v-1.1M449.27 496.2v1.1M457.01 580.2v-1.1M457.01 496.2v1.1M464.75 580.2v-1.1M464.75 496.2v1.1M472.48 580.2v-1.1M472.48 496.2v1.1M480.22 580.2v-1.1M480.22 496.2v1.1M487.96 580.2v-1.1M487.96 496.2v1.1M495.7 580.2v-1.1M495.7 496.2v1.1M503.44 580.2v-1.1M503.44 496.2v1.1M511.18 580.2v-1.1M511.18 496.2v1.1M518.92 580.2v-1.1M518.92 496.2v1.1M526.65 580.2v-1.1M526.65 496.2v1.1M534.39 580.2v-1.1M534.39 496.2v1.1M542.13 580.2v-1.1M542.13 496.2v1.1" stroke="#2a2a2a" stroke-width="0.7" fill="none"/>
<path d="M447.22 574h4.1" stroke="#d00a40" stroke-width="1.2"/>
<rect x="455.16" y="516.4" width="3.7" height="2" rx="0.4" fill="none" stroke="#00f" stroke-width="0.8"/><path d="M455.16 517.4h3.7" stroke="#f00" stroke-width="0.7"/>
<path d="M464.75 535V537.6" stroke="#000" stroke-width="0.85" stroke-dasharray="2 1.8"/><path d="M463.75 537.6h2" stroke="#000" stroke-width="0.6"/><rect x="462.9" y="529" width="3.7" height="6" rx="0.4" fill="none" stroke="#00f" stroke-width="0.8"/><path d="M462.9 531h3.7" stroke="#f00" stroke-width="0.7"/>
<rect x="470.63" y="513.6" width="3.7" height="2.4" rx="0.4" fill="none" stroke="#00f" stroke-width="0.8"/><path d="M470.63 514.6h3.7" stroke="#f00" stroke-width="0.7"/>
<rect x="478.37" y="555.4" width="3.7" height="2.2" rx="0.4" fill="none" stroke="#00f" stroke-width="0.8"/><path d="M478.37 556.6h3.7" stroke="#f00" stroke-width="0.7"/>
<path d="M487.96 524V525" stroke="#000" stroke-width="0.85" stroke-dasharray="2 1.8"/><path d="M486.96 525h2" stroke="#000" stroke-width="0.6"/><rect x="486.11" y="519" width="3.7" height="5" rx="0.4" fill="none" stroke="#00f" stroke-width="0.8"/><path d="M486.11 520.6h3.7" stroke="#f00" stroke-width="0.7"/>
<path d="M495.7 523.6V525.6" stroke="#000" stroke-width="0.85" stroke-dasharray="2 1.8"/><path d="M494.7 525.6h2" stroke="#000" stroke-width="0.6"/><rect x="493.85" y="514" width="3.7" height="9.6" rx="0.4" fill="none" stroke="#00f" stroke-width="0.8"/><path d="M493.85 518.4h3.7" stroke="#f00" stroke-width="0.7"/>
<path d="M503.44 540.4V542" stroke="#000" stroke-width="0.85" stroke-dasharray="2 1.8"/><path d="M502.44 540.4h2" stroke="#000" stroke-width="0.6"/><rect x="501.59" y="542" width="3.7" height="3.6" rx="0.4" fill="none" stroke="#00f" stroke-width="0.8"/><path d="M501.59 545h3.7" stroke="#f00" stroke-width="0.7"/>
<path d="M511.18 553.6V554.6" stroke="#000" stroke-width="0.85" stroke-dasharray="2 1.8"/><path d="M510.18 554.6h2" stroke="#000" stroke-width="0.6"/><rect x="509.33" y="550.6" width="3.7" height="3" rx="0.4" fill="none" stroke="#00f" stroke-width="0.8"/><path d="M509.33 552h3.7" stroke="#f00" stroke-width="0.7"/>
<path d="M518.92 527V528.6" stroke="#000" stroke-width="0.85" stroke-dasharray="2 1.8"/><path d="M517.92 527h2" stroke="#000" stroke-width="0.6"/><rect x="517.07" y="528.6" width="3.7" height="6" rx="0.4" fill="none" stroke="#00f" stroke-width="0.8"/><path d="M517.07 531.4h3.7" stroke="#f00" stroke-width="0.7"/>
<path d="M526.65 499.6V502.4" stroke="#000" stroke-width="0.85" stroke-dasharray="2 1.8"/><path d="M525.65 499.6h2" stroke="#000" stroke-width="0.6"/><rect x="524.8" y="502.4" width="3.7" height="12.2" rx="0.4" fill="none" stroke="#00f" stroke-width="0.8"/><path d="M524.8 507.4h3.7" stroke="#f00" stroke-width="0.7"/><path d="M525.85 519.6h1.6M526.65 518.8v1.6" stroke="#222" stroke-width="0.6"/>
<path d="M534.39 525.6V530" stroke="#000" stroke-width="0.85" stroke-dasharray="2 1.8"/><path d="M533.39 525.6h2" stroke="#000" stroke-width="0.6"/><rect x="532.54" y="530" width="3.7" height="9.6" rx="0.4" fill="none" stroke="#00f" stroke-width="0.8"/><path d="M532.54 536.6h3.7" stroke="#f00" stroke-width="0.7"/>
<rect x="540.28" y="538" width="3.7" height="2" rx="0.4" fill="none" stroke="#00f" stroke-width="0.8"/><path d="M540.28 539h3.7" stroke="#f00" stroke-width="0.7"/>
<text transform="translate(444.1 502.5) scale(1 1.2)" text-anchor="end" font-size="6.2">5000</text>
<text transform="translate(444.1 512.93) scale(1 1.2)" text-anchor="end" font-size="6.2">4500</text>
<text transform="translate(444.1 524.58) scale(1 1.2)" text-anchor="end" font-size="6.2">4000</text>
<text transform="translate(444.1 537.8) scale(1 1.2)" text-anchor="end" font-size="6.2">3500</text>
<text transform="translate(444.1 553.06) scale(1 1.2)" text-anchor="end" font-size="6.2">3000</text>
<text transform="translate(444.1 571.1) scale(1 1.2)" text-anchor="end" font-size="6.2">2500</text>
<text transform="translate(452.12 582.1) rotate(-90) scale(1 1.2)" text-anchor="end" font-size="6.2">LOA</text>
<text transform="translate(459.86 582.1) rotate(-90) scale(1 1.2)" text-anchor="end" font-size="6.2">WSO</text>
<text transform="translate(467.6 582.1) rotate(-90) scale(1 1.2)" text-anchor="end" font-size="6.2">AVOA</text>
<text transform="translate(475.33 582.1) rotate(-90) scale(1 1.2)" text-anchor="end" font-size="6.2">RSA</text>
<text transform="translate(483.07 582.1) rotate(-90) scale(1 1.2)" text-anchor="end" font-size="6.2">MPA</text>
<text transform="translate(490.81 582.1) rotate(-90) scale(1 1.2)" text-anchor="end" font-size="6.2">TSA</text>
<text transform="translate(498.55 582.1) rotate(-90) scale(1 1.2)" text-anchor="end" font-size="6.2">WOA</text>
<text transform="translate(506.29 582.1) rotate(-90) scale(1 1.2)" text-anchor="end" font-size="6.2">MVO</text>
<text transform="translate(514.03 582.1) rotate(-90) scale(1 1.2)" text-anchor="end" font-size="6.2">GWO</text>
<text transform="translate(521.77 582.1) rotate(-90) scale(1 1.2)" text-anchor="end" font-size="6.2">TLBO</text>
<text transform="translate(529.5 582.1) rotate(-90) scale(1 1.2)" text-anchor="end" font-size="6.2">GSA</text>
<text transform="translate(537.24 582.1) rotate(-90) scale(1 1.2)" text-anchor="end" font-size="6.2">PSO</text>
<text transform="translate(544.98 582.1) rotate(-90) scale(1 1.2)" text-anchor="end" font-size="6.2">GA</text>
<text transform="translate(495.7 606.5) scale(1 1.2)" text-anchor="middle" font-size="7.05">algorithm</text>
<text transform="translate(495.7 494.3) scale(1 1.04)" text-anchor="middle" font-size="7.1" font-weight="bold" style="fill:#000;stroke:#000">C17-F21</text>
<text transform="translate(427.65 538.2) rotate(-90) scale(1 1.2)" text-anchor="middle" font-size="7.05">objective function</text>
</g>
</svg></body></html>
